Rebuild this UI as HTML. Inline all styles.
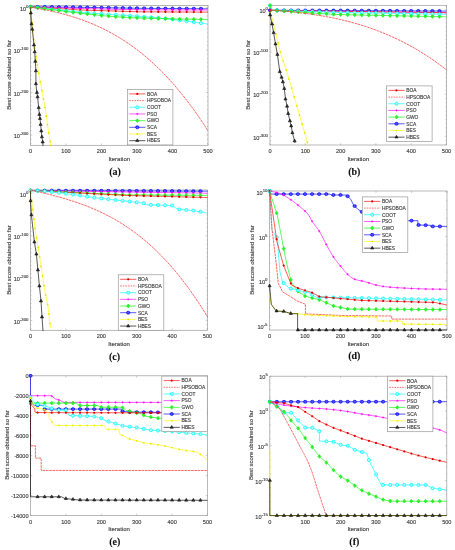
<!DOCTYPE html>
<html><head><meta charset="utf-8"><style>
html,body{margin:0;padding:0;background:#fff;width:455px;height:550px;overflow:hidden}
svg{display:block;will-change:transform}
text{stroke:#555;stroke-width:0.15px}
text.sub{stroke:#111;stroke-width:0.1px}
</style></head><body>
<svg width="455" height="550" viewBox="0 0 455 550">
<rect width="455" height="550" fill="#fff"/>
<g font-family='"Liberation Sans", sans-serif' font-size="5.6" fill="#333333"><text x="30.5" y="153.3" text-anchor="middle">0</text><text x="66" y="153.3" text-anchor="middle">100</text><text x="101.5" y="153.3" text-anchor="middle">200</text><text x="137" y="153.3" text-anchor="middle">300</text><text x="172.5" y="153.3" text-anchor="middle">400</text><text x="208" y="153.3" text-anchor="middle">500</text><text x="28.5" y="10.7" text-anchor="end">10<tspan dy="-3.0" font-size="4.3">0</tspan></text><text x="28.5" y="53.2" text-anchor="end">10<tspan dy="-3.0" font-size="4.3">-100</tspan></text><text x="28.5" y="95.7" text-anchor="end">10<tspan dy="-3.0" font-size="4.3">-200</tspan></text><text x="28.5" y="138.2" text-anchor="end">10<tspan dy="-3.0" font-size="4.3">-300</tspan></text></g>
<text x="119.25" y="161" text-anchor="middle" font-family='"Liberation Sans", sans-serif' font-size="6.0" fill="#333333">Iteration</text>
<text transform="translate(10.7 74.9) rotate(-90)" text-anchor="middle" font-family='"Liberation Sans", sans-serif' font-size="6.0" fill="#333333">Best score obtained so far</text>
<text x="115" y="174.7" text-anchor="middle" font-family='"Liberation Serif", serif' font-size="10" font-weight="bold" fill="#111" class="sub">(a)</text>
<rect x="30.5" y="5.5" width="177.5" height="139.8" fill="none" stroke="#9a9a9a" stroke-width="0.7"/>
<path d="M30.5 145.3v-1.8 M30.5 5.5v1.8 M66 145.3v-1.8 M66 5.5v1.8 M101.5 145.3v-1.8 M101.5 5.5v1.8 M137 145.3v-1.8 M137 5.5v1.8 M172.5 145.3v-1.8 M172.5 5.5v1.8 M208 145.3v-1.8 M208 5.5v1.8 M30.5 7.5h1.8 M208 7.5h-1.8 M30.5 50h1.8 M208 50h-1.8 M30.5 92.5h1.8 M208 92.5h-1.8 M30.5 135h1.8 M208 135h-1.8 M30.5 143.5h1 M208 143.5h-1 M30.5 139.25h1 M208 139.25h-1 M30.5 130.75h1 M208 130.75h-1 M30.5 126.5h1 M208 126.5h-1 M30.5 122.25h1 M208 122.25h-1 M30.5 118h1 M208 118h-1 M30.5 113.75h1 M208 113.75h-1 M30.5 109.5h1 M208 109.5h-1 M30.5 105.25h1 M208 105.25h-1 M30.5 101h1 M208 101h-1 M30.5 96.75h1 M208 96.75h-1 M30.5 88.25h1 M208 88.25h-1 M30.5 84h1 M208 84h-1 M30.5 79.75h1 M208 79.75h-1 M30.5 75.5h1 M208 75.5h-1 M30.5 71.25h1 M208 71.25h-1 M30.5 67h1 M208 67h-1 M30.5 62.75h1 M208 62.75h-1 M30.5 58.5h1 M208 58.5h-1 M30.5 54.25h1 M208 54.25h-1 M30.5 45.75h1 M208 45.75h-1 M30.5 41.5h1 M208 41.5h-1 M30.5 37.25h1 M208 37.25h-1 M30.5 33h1 M208 33h-1 M30.5 28.75h1 M208 28.75h-1 M30.5 24.5h1 M208 24.5h-1 M30.5 20.25h1 M208 20.25h-1 M30.5 16h1 M208 16h-1 M30.5 11.75h1 M208 11.75h-1" stroke="#9a9a9a" stroke-width="0.5" fill="none"/>
<clipPath id="ca"><rect x="28.5" y="3.5" width="181.5" height="143.8"/></clipPath>
<g clip-path="url(#ca)">
<polyline points="30.5,6.8 80,7.3 140,8.3 208,8.8" fill="none" stroke="#0000ff" stroke-width="0.65" stroke-linejoin="round"/>
<ellipse cx="30.5" cy="6.8" rx="1.7" ry="1.45" fill="#5050ff" stroke="#0000ff" stroke-width="0.7"/>
<ellipse cx="37.6" cy="6.87" rx="1.7" ry="1.45" fill="#5050ff" stroke="#0000ff" stroke-width="0.7"/>
<ellipse cx="44.7" cy="6.94" rx="1.7" ry="1.45" fill="#5050ff" stroke="#0000ff" stroke-width="0.7"/>
<ellipse cx="51.8" cy="7.02" rx="1.7" ry="1.45" fill="#5050ff" stroke="#0000ff" stroke-width="0.7"/>
<ellipse cx="58.9" cy="7.09" rx="1.7" ry="1.45" fill="#5050ff" stroke="#0000ff" stroke-width="0.7"/>
<ellipse cx="66" cy="7.16" rx="1.7" ry="1.45" fill="#5050ff" stroke="#0000ff" stroke-width="0.7"/>
<ellipse cx="73.1" cy="7.23" rx="1.7" ry="1.45" fill="#5050ff" stroke="#0000ff" stroke-width="0.7"/>
<ellipse cx="80.2" cy="7.3" rx="1.7" ry="1.45" fill="#5050ff" stroke="#0000ff" stroke-width="0.7"/>
<ellipse cx="87.3" cy="7.42" rx="1.7" ry="1.45" fill="#5050ff" stroke="#0000ff" stroke-width="0.7"/>
<ellipse cx="94.4" cy="7.54" rx="1.7" ry="1.45" fill="#5050ff" stroke="#0000ff" stroke-width="0.7"/>
<ellipse cx="101.5" cy="7.66" rx="1.7" ry="1.45" fill="#5050ff" stroke="#0000ff" stroke-width="0.7"/>
<ellipse cx="108.6" cy="7.78" rx="1.7" ry="1.45" fill="#5050ff" stroke="#0000ff" stroke-width="0.7"/>
<ellipse cx="115.7" cy="7.9" rx="1.7" ry="1.45" fill="#5050ff" stroke="#0000ff" stroke-width="0.7"/>
<ellipse cx="122.8" cy="8.01" rx="1.7" ry="1.45" fill="#5050ff" stroke="#0000ff" stroke-width="0.7"/>
<ellipse cx="129.9" cy="8.13" rx="1.7" ry="1.45" fill="#5050ff" stroke="#0000ff" stroke-width="0.7"/>
<ellipse cx="137" cy="8.25" rx="1.7" ry="1.45" fill="#5050ff" stroke="#0000ff" stroke-width="0.7"/>
<ellipse cx="144.1" cy="8.33" rx="1.7" ry="1.45" fill="#5050ff" stroke="#0000ff" stroke-width="0.7"/>
<ellipse cx="151.2" cy="8.38" rx="1.7" ry="1.45" fill="#5050ff" stroke="#0000ff" stroke-width="0.7"/>
<ellipse cx="158.3" cy="8.43" rx="1.7" ry="1.45" fill="#5050ff" stroke="#0000ff" stroke-width="0.7"/>
<ellipse cx="165.4" cy="8.49" rx="1.7" ry="1.45" fill="#5050ff" stroke="#0000ff" stroke-width="0.7"/>
<ellipse cx="172.5" cy="8.54" rx="1.7" ry="1.45" fill="#5050ff" stroke="#0000ff" stroke-width="0.7"/>
<ellipse cx="179.6" cy="8.59" rx="1.7" ry="1.45" fill="#5050ff" stroke="#0000ff" stroke-width="0.7"/>
<ellipse cx="186.7" cy="8.64" rx="1.7" ry="1.45" fill="#5050ff" stroke="#0000ff" stroke-width="0.7"/>
<ellipse cx="193.8" cy="8.7" rx="1.7" ry="1.45" fill="#5050ff" stroke="#0000ff" stroke-width="0.7"/>
<ellipse cx="200.9" cy="8.75" rx="1.7" ry="1.45" fill="#5050ff" stroke="#0000ff" stroke-width="0.7"/>
<polyline points="30.5,6.8 80,8.5 140,9.8 208,10" fill="none" stroke="#ff00ff" stroke-width="0.65" stroke-linejoin="round"/>
<path d="M29.4 6.8h2.2M30.5 5.7v2.2" stroke="#ff00ff" stroke-width="0.7"/>
<path d="M36.5 7.04h2.2M37.6 5.94v2.2" stroke="#ff00ff" stroke-width="0.7"/>
<path d="M43.6 7.29h2.2M44.7 6.19v2.2" stroke="#ff00ff" stroke-width="0.7"/>
<path d="M50.7 7.53h2.2M51.8 6.43v2.2" stroke="#ff00ff" stroke-width="0.7"/>
<path d="M57.8 7.78h2.2M58.9 6.68v2.2" stroke="#ff00ff" stroke-width="0.7"/>
<path d="M64.9 8.02h2.2M66 6.92v2.2" stroke="#ff00ff" stroke-width="0.7"/>
<path d="M72 8.26h2.2M73.1 7.16v2.2" stroke="#ff00ff" stroke-width="0.7"/>
<path d="M79.1 8.5h2.2M80.2 7.4v2.2" stroke="#ff00ff" stroke-width="0.7"/>
<path d="M86.2 8.66h2.2M87.3 7.56v2.2" stroke="#ff00ff" stroke-width="0.7"/>
<path d="M93.3 8.81h2.2M94.4 7.71v2.2" stroke="#ff00ff" stroke-width="0.7"/>
<path d="M100.4 8.97h2.2M101.5 7.87v2.2" stroke="#ff00ff" stroke-width="0.7"/>
<path d="M107.5 9.12h2.2M108.6 8.02v2.2" stroke="#ff00ff" stroke-width="0.7"/>
<path d="M114.6 9.27h2.2M115.7 8.17v2.2" stroke="#ff00ff" stroke-width="0.7"/>
<path d="M121.7 9.43h2.2M122.8 8.33v2.2" stroke="#ff00ff" stroke-width="0.7"/>
<path d="M128.8 9.58h2.2M129.9 8.48v2.2" stroke="#ff00ff" stroke-width="0.7"/>
<path d="M135.9 9.74h2.2M137 8.64v2.2" stroke="#ff00ff" stroke-width="0.7"/>
<path d="M143 9.81h2.2M144.1 8.71v2.2" stroke="#ff00ff" stroke-width="0.7"/>
<path d="M150.1 9.83h2.2M151.2 8.73v2.2" stroke="#ff00ff" stroke-width="0.7"/>
<path d="M157.2 9.85h2.2M158.3 8.75v2.2" stroke="#ff00ff" stroke-width="0.7"/>
<path d="M164.3 9.87h2.2M165.4 8.77v2.2" stroke="#ff00ff" stroke-width="0.7"/>
<path d="M171.4 9.9h2.2M172.5 8.8v2.2" stroke="#ff00ff" stroke-width="0.7"/>
<path d="M178.5 9.92h2.2M179.6 8.82v2.2" stroke="#ff00ff" stroke-width="0.7"/>
<path d="M185.6 9.94h2.2M186.7 8.84v2.2" stroke="#ff00ff" stroke-width="0.7"/>
<path d="M192.7 9.96h2.2M193.8 8.86v2.2" stroke="#ff00ff" stroke-width="0.7"/>
<path d="M199.8 9.98h2.2M200.9 8.88v2.2" stroke="#ff00ff" stroke-width="0.7"/>
<polyline points="30.5,6.8 80,10 140,11.8 208,12.1" fill="none" stroke="#ff0000" stroke-width="0.65" stroke-linejoin="round"/>
<circle cx="30.5" cy="6.8" r="1.1" fill="#e00000"/>
<circle cx="37.6" cy="7.26" r="1.1" fill="#e00000"/>
<circle cx="44.7" cy="7.72" r="1.1" fill="#e00000"/>
<circle cx="51.8" cy="8.18" r="1.1" fill="#e00000"/>
<circle cx="58.9" cy="8.64" r="1.1" fill="#e00000"/>
<circle cx="66" cy="9.09" r="1.1" fill="#e00000"/>
<circle cx="73.1" cy="9.55" r="1.1" fill="#e00000"/>
<circle cx="80.2" cy="10.01" r="1.1" fill="#e00000"/>
<circle cx="87.3" cy="10.22" r="1.1" fill="#e00000"/>
<circle cx="94.4" cy="10.43" r="1.1" fill="#e00000"/>
<circle cx="101.5" cy="10.64" r="1.1" fill="#e00000"/>
<circle cx="108.6" cy="10.86" r="1.1" fill="#e00000"/>
<circle cx="115.7" cy="11.07" r="1.1" fill="#e00000"/>
<circle cx="122.8" cy="11.28" r="1.1" fill="#e00000"/>
<circle cx="129.9" cy="11.5" r="1.1" fill="#e00000"/>
<circle cx="137" cy="11.71" r="1.1" fill="#e00000"/>
<circle cx="144.1" cy="11.82" r="1.1" fill="#e00000"/>
<circle cx="151.2" cy="11.85" r="1.1" fill="#e00000"/>
<circle cx="158.3" cy="11.88" r="1.1" fill="#e00000"/>
<circle cx="165.4" cy="11.91" r="1.1" fill="#e00000"/>
<circle cx="172.5" cy="11.94" r="1.1" fill="#e00000"/>
<circle cx="179.6" cy="11.97" r="1.1" fill="#e00000"/>
<circle cx="186.7" cy="12.01" r="1.1" fill="#e00000"/>
<circle cx="193.8" cy="12.04" r="1.1" fill="#e00000"/>
<circle cx="200.9" cy="12.07" r="1.1" fill="#e00000"/>
<polyline points="30.5,6.8 34.32,7.23 39.38,7.81 45.42,8.51 52.12,9.28 59.23,10.07 66.43,10.85 73.45,11.57 80,12.2 86.33,12.74 92.82,13.25 99.37,13.72 105.91,14.16 112.33,14.59 118.54,15 124.46,15.4 130,15.8 135.04,16.17 139.62,16.5 143.87,16.79 147.94,17.09 151.95,17.39 156.04,17.74 160.34,18.13 165,18.6 170.29,19.19 176.2,19.89 182.43,20.67 188.69,21.48 194.67,22.26 200.09,22.97 204.63,23.57 208,24" fill="none" stroke="#00ffff" stroke-width="0.65" stroke-linejoin="round"/>
<circle cx="30.5" cy="6.8" r="1.55" fill="#b0ffff" stroke="#00ffff" stroke-width="0.8"/>
<circle cx="37.6" cy="7.61" r="1.55" fill="#b0ffff" stroke="#00ffff" stroke-width="0.8"/>
<circle cx="44.7" cy="8.43" r="1.55" fill="#b0ffff" stroke="#00ffff" stroke-width="0.8"/>
<circle cx="51.8" cy="9.24" r="1.55" fill="#b0ffff" stroke="#00ffff" stroke-width="0.8"/>
<circle cx="58.9" cy="10.03" r="1.55" fill="#b0ffff" stroke="#00ffff" stroke-width="0.8"/>
<circle cx="66" cy="10.8" r="1.55" fill="#b0ffff" stroke="#00ffff" stroke-width="0.8"/>
<circle cx="73.1" cy="11.54" r="1.55" fill="#b0ffff" stroke="#00ffff" stroke-width="0.8"/>
<circle cx="80.2" cy="12.22" r="1.55" fill="#b0ffff" stroke="#00ffff" stroke-width="0.8"/>
<circle cx="87.3" cy="12.82" r="1.55" fill="#b0ffff" stroke="#00ffff" stroke-width="0.8"/>
<circle cx="94.4" cy="13.36" r="1.55" fill="#b0ffff" stroke="#00ffff" stroke-width="0.8"/>
<circle cx="101.5" cy="13.86" r="1.55" fill="#b0ffff" stroke="#00ffff" stroke-width="0.8"/>
<circle cx="108.6" cy="14.34" r="1.55" fill="#b0ffff" stroke="#00ffff" stroke-width="0.8"/>
<circle cx="115.7" cy="14.81" r="1.55" fill="#b0ffff" stroke="#00ffff" stroke-width="0.8"/>
<circle cx="122.8" cy="15.29" r="1.55" fill="#b0ffff" stroke="#00ffff" stroke-width="0.8"/>
<circle cx="129.9" cy="15.79" r="1.55" fill="#b0ffff" stroke="#00ffff" stroke-width="0.8"/>
<circle cx="137" cy="16.31" r="1.55" fill="#b0ffff" stroke="#00ffff" stroke-width="0.8"/>
<circle cx="144.1" cy="16.81" r="1.55" fill="#b0ffff" stroke="#00ffff" stroke-width="0.8"/>
<circle cx="151.2" cy="17.34" r="1.55" fill="#b0ffff" stroke="#00ffff" stroke-width="0.8"/>
<circle cx="158.3" cy="17.94" r="1.55" fill="#b0ffff" stroke="#00ffff" stroke-width="0.8"/>
<circle cx="165.4" cy="18.64" r="1.55" fill="#b0ffff" stroke="#00ffff" stroke-width="0.8"/>
<circle cx="172.5" cy="19.45" r="1.55" fill="#b0ffff" stroke="#00ffff" stroke-width="0.8"/>
<circle cx="179.6" cy="20.32" r="1.55" fill="#b0ffff" stroke="#00ffff" stroke-width="0.8"/>
<circle cx="186.7" cy="21.22" r="1.55" fill="#b0ffff" stroke="#00ffff" stroke-width="0.8"/>
<circle cx="193.8" cy="22.14" r="1.55" fill="#b0ffff" stroke="#00ffff" stroke-width="0.8"/>
<circle cx="200.9" cy="23.08" r="1.55" fill="#b0ffff" stroke="#00ffff" stroke-width="0.8"/>
<polyline points="30.5,6.8 34.32,7.31 39.38,8 45.42,8.82 52.12,9.72 59.23,10.67 66.43,11.59 73.45,12.45 80,13.2 86.03,13.86 91.81,14.5 97.48,15.11 103.22,15.68 109.18,16.22 115.52,16.72 122.41,17.18 130,17.6 138.94,17.97 149.36,18.3 160.63,18.58 172.12,18.83 183.23,19.04 193.33,19.22 201.79,19.37 208,19.5" fill="none" stroke="#00ff00" stroke-width="0.65" stroke-linejoin="round"/>
<path d="M30.5 4.9l1.5 1.9l-1.5 1.9l-1.5 -1.9z" fill="#40e040" stroke="#00ff00" stroke-width="0.6"/>
<path d="M37.6 5.85l1.5 1.9l-1.5 1.9l-1.5 -1.9z" fill="#40e040" stroke="#00ff00" stroke-width="0.6"/>
<path d="M44.7 6.82l1.5 1.9l-1.5 1.9l-1.5 -1.9z" fill="#40e040" stroke="#00ff00" stroke-width="0.6"/>
<path d="M51.8 7.78l1.5 1.9l-1.5 1.9l-1.5 -1.9z" fill="#40e040" stroke="#00ff00" stroke-width="0.6"/>
<path d="M58.9 8.72l1.5 1.9l-1.5 1.9l-1.5 -1.9z" fill="#40e040" stroke="#00ff00" stroke-width="0.6"/>
<path d="M66 9.64l1.5 1.9l-1.5 1.9l-1.5 -1.9z" fill="#40e040" stroke="#00ff00" stroke-width="0.6"/>
<path d="M73.1 10.51l1.5 1.9l-1.5 1.9l-1.5 -1.9z" fill="#40e040" stroke="#00ff00" stroke-width="0.6"/>
<path d="M80.2 11.32l1.5 1.9l-1.5 1.9l-1.5 -1.9z" fill="#40e040" stroke="#00ff00" stroke-width="0.6"/>
<path d="M87.3 12.1l1.5 1.9l-1.5 1.9l-1.5 -1.9z" fill="#40e040" stroke="#00ff00" stroke-width="0.6"/>
<path d="M94.4 12.88l1.5 1.9l-1.5 1.9l-1.5 -1.9z" fill="#40e040" stroke="#00ff00" stroke-width="0.6"/>
<path d="M101.5 13.61l1.5 1.9l-1.5 1.9l-1.5 -1.9z" fill="#40e040" stroke="#00ff00" stroke-width="0.6"/>
<path d="M108.6 14.27l1.5 1.9l-1.5 1.9l-1.5 -1.9z" fill="#40e040" stroke="#00ff00" stroke-width="0.6"/>
<path d="M115.7 14.83l1.5 1.9l-1.5 1.9l-1.5 -1.9z" fill="#40e040" stroke="#00ff00" stroke-width="0.6"/>
<path d="M122.8 15.3l1.5 1.9l-1.5 1.9l-1.5 -1.9z" fill="#40e040" stroke="#00ff00" stroke-width="0.6"/>
<path d="M129.9 15.69l1.5 1.9l-1.5 1.9l-1.5 -1.9z" fill="#40e040" stroke="#00ff00" stroke-width="0.6"/>
<path d="M137 15.99l1.5 1.9l-1.5 1.9l-1.5 -1.9z" fill="#40e040" stroke="#00ff00" stroke-width="0.6"/>
<path d="M144.1 16.23l1.5 1.9l-1.5 1.9l-1.5 -1.9z" fill="#40e040" stroke="#00ff00" stroke-width="0.6"/>
<path d="M151.2 16.44l1.5 1.9l-1.5 1.9l-1.5 -1.9z" fill="#40e040" stroke="#00ff00" stroke-width="0.6"/>
<path d="M158.3 16.62l1.5 1.9l-1.5 1.9l-1.5 -1.9z" fill="#40e040" stroke="#00ff00" stroke-width="0.6"/>
<path d="M165.4 16.78l1.5 1.9l-1.5 1.9l-1.5 -1.9z" fill="#40e040" stroke="#00ff00" stroke-width="0.6"/>
<path d="M172.5 16.93l1.5 1.9l-1.5 1.9l-1.5 -1.9z" fill="#40e040" stroke="#00ff00" stroke-width="0.6"/>
<path d="M179.6 17.07l1.5 1.9l-1.5 1.9l-1.5 -1.9z" fill="#40e040" stroke="#00ff00" stroke-width="0.6"/>
<path d="M186.7 17.2l1.5 1.9l-1.5 1.9l-1.5 -1.9z" fill="#40e040" stroke="#00ff00" stroke-width="0.6"/>
<path d="M193.8 17.33l1.5 1.9l-1.5 1.9l-1.5 -1.9z" fill="#40e040" stroke="#00ff00" stroke-width="0.6"/>
<path d="M200.9 17.45l1.5 1.9l-1.5 1.9l-1.5 -1.9z" fill="#40e040" stroke="#00ff00" stroke-width="0.6"/>
<polyline points="30.5,7.24 35.05,8 39.6,8.8 44.15,9.66 48.71,10.59 53.26,11.58 57.81,12.65 62.36,13.8 66.91,15.04 71.46,16.37 76.01,17.8 80.56,19.34 85.12,20.99 89.67,22.76 94.22,24.65 98.77,26.68 103.32,28.84 107.87,31.15 112.42,33.6 116.97,36.21 121.53,38.99 126.08,41.93 130.63,45.05 135.18,48.35 139.73,51.83 144.28,55.51 148.83,59.39 153.38,63.48 157.94,67.78 162.49,72.29 167.04,77.03 171.59,82 176.14,87.21 180.69,92.66 185.24,98.36 189.79,104.32 194.35,110.54 198.9,117.02 203.45,123.79 208,130.83" fill="none" stroke="#ff3333" stroke-width="0.75" stroke-dasharray="2.6 0.7" stroke-linejoin="round"/>
<polyline points="30.5,7.5 34.2,45 39,75 44.6,105 50.7,146" fill="none" stroke="#ffff00" stroke-width="0.65" stroke-linejoin="round"/>
<circle cx="31.14" cy="14" r="0.9" fill="#e8e800"/>
<circle cx="31.98" cy="22.5" r="0.9" fill="#e8e800"/>
<circle cx="32.82" cy="31" r="0.9" fill="#e8e800"/>
<circle cx="33.66" cy="39.5" r="0.9" fill="#e8e800"/>
<circle cx="34.68" cy="48" r="0.9" fill="#e8e800"/>
<circle cx="36.04" cy="56.5" r="0.9" fill="#e8e800"/>
<circle cx="37.4" cy="65" r="0.9" fill="#e8e800"/>
<circle cx="38.76" cy="73.5" r="0.9" fill="#e8e800"/>
<circle cx="40.31" cy="82" r="0.9" fill="#e8e800"/>
<circle cx="41.89" cy="90.5" r="0.9" fill="#e8e800"/>
<circle cx="43.48" cy="99" r="0.9" fill="#e8e800"/>
<circle cx="44.97" cy="107.5" r="0.9" fill="#e8e800"/>
<circle cx="46.24" cy="116" r="0.9" fill="#e8e800"/>
<circle cx="47.5" cy="124.5" r="0.9" fill="#e8e800"/>
<circle cx="48.77" cy="133" r="0.9" fill="#e8e800"/>
<circle cx="50.03" cy="141.5" r="0.9" fill="#e8e800"/>
<polyline points="30.5,7.5 30.8,13 31.5,23.9 32.3,29.3 34,45 34.7,51.8 35.3,61.4 35.9,70.9 35.9,83.8 36.9,92.5 37.6,96.9 38.7,107.7 39.4,114.5 40,118.6 40.6,124.5 41.3,131 41.9,136.9 42.7,142 43,146" fill="none" stroke="#000000" stroke-width="0.65" stroke-linejoin="round"/>
<path d="M30.8 11.1l1.6 2.8h-3.2z" fill="#333" stroke="#000" stroke-width="0.5"/>
<path d="M31.5 22l1.6 2.8h-3.2z" fill="#333" stroke="#000" stroke-width="0.5"/>
<path d="M32.3 27.4l1.6 2.8h-3.2z" fill="#333" stroke="#000" stroke-width="0.5"/>
<path d="M34 43.1l1.6 2.8h-3.2z" fill="#333" stroke="#000" stroke-width="0.5"/>
<path d="M34.7 49.9l1.6 2.8h-3.2z" fill="#333" stroke="#000" stroke-width="0.5"/>
<path d="M35.3 59.5l1.6 2.8h-3.2z" fill="#333" stroke="#000" stroke-width="0.5"/>
<path d="M35.9 69l1.6 2.8h-3.2z" fill="#333" stroke="#000" stroke-width="0.5"/>
<path d="M35.9 81.9l1.6 2.8h-3.2z" fill="#333" stroke="#000" stroke-width="0.5"/>
<path d="M36.9 90.6l1.6 2.8h-3.2z" fill="#333" stroke="#000" stroke-width="0.5"/>
<path d="M37.6 95l1.6 2.8h-3.2z" fill="#333" stroke="#000" stroke-width="0.5"/>
<path d="M38.7 105.8l1.6 2.8h-3.2z" fill="#333" stroke="#000" stroke-width="0.5"/>
<path d="M39.4 112.6l1.6 2.8h-3.2z" fill="#333" stroke="#000" stroke-width="0.5"/>
<path d="M40 116.7l1.6 2.8h-3.2z" fill="#333" stroke="#000" stroke-width="0.5"/>
<path d="M40.6 122.6l1.6 2.8h-3.2z" fill="#333" stroke="#000" stroke-width="0.5"/>
<path d="M41.3 129.1l1.6 2.8h-3.2z" fill="#333" stroke="#000" stroke-width="0.5"/>
<path d="M41.9 135l1.6 2.8h-3.2z" fill="#333" stroke="#000" stroke-width="0.5"/>
<path d="M42.7 140.1l1.6 2.8h-3.2z" fill="#333" stroke="#000" stroke-width="0.5"/>
</g>
<rect x="127.4" y="89.4" width="45.5" height="55.5" fill="#fff" stroke="#9a9a9a" stroke-width="0.7"/>
<line x1="129.2" y1="93.9" x2="145.4" y2="93.9" stroke="#ff0000" stroke-width="0.65"/>
<circle cx="137.3" cy="93.9" r="1.1" fill="#e00000"/>
<text x="147" y="95.7" font-family='"Liberation Sans", sans-serif' font-size="4.85" fill="#333333">BOA</text>
<line x1="129.2" y1="100.58" x2="145.4" y2="100.58" stroke="#ff3333" stroke-width="0.7" stroke-dasharray="1.6 1"/>
<text x="147" y="102.38" font-family='"Liberation Sans", sans-serif' font-size="4.85" fill="#333333">HPSOBOA</text>
<line x1="129.2" y1="107.26" x2="145.4" y2="107.26" stroke="#00ffff" stroke-width="0.65"/>
<circle cx="137.3" cy="107.26" r="1.55" fill="#b0ffff" stroke="#00ffff" stroke-width="0.8"/>
<text x="147" y="109.06" font-family='"Liberation Sans", sans-serif' font-size="4.85" fill="#333333">COOT</text>
<line x1="129.2" y1="113.94" x2="145.4" y2="113.94" stroke="#ff00ff" stroke-width="0.65"/>
<path d="M136.2 113.94h2.2M137.3 112.84v2.2" stroke="#ff00ff" stroke-width="0.7"/>
<text x="147" y="115.74" font-family='"Liberation Sans", sans-serif' font-size="4.85" fill="#333333">PSO</text>
<line x1="129.2" y1="120.62" x2="145.4" y2="120.62" stroke="#00ff00" stroke-width="0.65"/>
<path d="M137.3 118.72l1.5 1.9l-1.5 1.9l-1.5 -1.9z" fill="#40e040" stroke="#00ff00" stroke-width="0.6"/>
<text x="147" y="122.42" font-family='"Liberation Sans", sans-serif' font-size="4.85" fill="#333333">GWO</text>
<line x1="129.2" y1="127.3" x2="145.4" y2="127.3" stroke="#0000ff" stroke-width="0.65"/>
<ellipse cx="137.3" cy="127.3" rx="1.7" ry="1.45" fill="#5050ff" stroke="#0000ff" stroke-width="0.7"/>
<text x="147" y="129.1" font-family='"Liberation Sans", sans-serif' font-size="4.85" fill="#333333">SCA</text>
<line x1="129.2" y1="133.98" x2="145.4" y2="133.98" stroke="#ffff00" stroke-width="0.65"/>
<circle cx="137.3" cy="133.98" r="0.9" fill="#e8e800"/>
<text x="147" y="135.78" font-family='"Liberation Sans", sans-serif' font-size="4.85" fill="#333333">BES</text>
<line x1="129.2" y1="140.66" x2="145.4" y2="140.66" stroke="#000000" stroke-width="0.65"/>
<path d="M137.3 138.76l1.6 2.8h-3.2z" fill="#333" stroke="#000" stroke-width="0.5"/>
<text x="147" y="142.46" font-family='"Liberation Sans", sans-serif' font-size="4.85" fill="#333333">HBES</text>
<g font-family='"Liberation Sans", sans-serif' font-size="5.6" fill="#333333"><text x="270" y="153" text-anchor="middle">0</text><text x="305.3" y="153" text-anchor="middle">100</text><text x="340.6" y="153" text-anchor="middle">200</text><text x="375.9" y="153" text-anchor="middle">300</text><text x="411.2" y="153" text-anchor="middle">400</text><text x="446.5" y="153" text-anchor="middle">500</text><text x="268" y="13.2" text-anchor="end">10<tspan dy="-3.0" font-size="4.3">0</tspan></text><text x="268" y="55.3" text-anchor="end">10<tspan dy="-3.0" font-size="4.3">-100</tspan></text><text x="268" y="97.4" text-anchor="end">10<tspan dy="-3.0" font-size="4.3">-200</tspan></text><text x="268" y="139.5" text-anchor="end">10<tspan dy="-3.0" font-size="4.3">-300</tspan></text></g>
<text x="358.25" y="160.7" text-anchor="middle" font-family='"Liberation Sans", sans-serif' font-size="6.0" fill="#333333">Iteration</text>
<text transform="translate(250.05 74.8) rotate(-90)" text-anchor="middle" font-family='"Liberation Sans", sans-serif' font-size="6.0" fill="#333333">Best score obtained so far</text>
<text x="354.3" y="174.6" text-anchor="middle" font-family='"Liberation Serif", serif' font-size="10" font-weight="bold" fill="#111" class="sub">(b)</text>
<rect x="270" y="5.3" width="176.5" height="139.7" fill="none" stroke="#9a9a9a" stroke-width="0.7"/>
<path d="M270 145v-1.8 M270 5.3v1.8 M305.3 145v-1.8 M305.3 5.3v1.8 M340.6 145v-1.8 M340.6 5.3v1.8 M375.9 145v-1.8 M375.9 5.3v1.8 M411.2 145v-1.8 M411.2 5.3v1.8 M446.5 145v-1.8 M446.5 5.3v1.8 M270 10h1.8 M446.5 10h-1.8 M270 52.1h1.8 M446.5 52.1h-1.8 M270 94.2h1.8 M446.5 94.2h-1.8 M270 136.3h1.8 M446.5 136.3h-1.8 M270 144.72h1 M446.5 144.72h-1 M270 140.51h1 M446.5 140.51h-1 M270 132.09h1 M446.5 132.09h-1 M270 127.88h1 M446.5 127.88h-1 M270 123.67h1 M446.5 123.67h-1 M270 119.46h1 M446.5 119.46h-1 M270 115.25h1 M446.5 115.25h-1 M270 111.04h1 M446.5 111.04h-1 M270 106.83h1 M446.5 106.83h-1 M270 102.62h1 M446.5 102.62h-1 M270 98.41h1 M446.5 98.41h-1 M270 89.99h1 M446.5 89.99h-1 M270 85.78h1 M446.5 85.78h-1 M270 81.57h1 M446.5 81.57h-1 M270 77.36h1 M446.5 77.36h-1 M270 73.15h1 M446.5 73.15h-1 M270 68.94h1 M446.5 68.94h-1 M270 64.73h1 M446.5 64.73h-1 M270 60.52h1 M446.5 60.52h-1 M270 56.31h1 M446.5 56.31h-1 M270 47.89h1 M446.5 47.89h-1 M270 43.68h1 M446.5 43.68h-1 M270 39.47h1 M446.5 39.47h-1 M270 35.26h1 M446.5 35.26h-1 M270 31.05h1 M446.5 31.05h-1 M270 26.84h1 M446.5 26.84h-1 M270 22.63h1 M446.5 22.63h-1 M270 18.42h1 M446.5 18.42h-1 M270 14.21h1 M446.5 14.21h-1 M270 5.79h1 M446.5 5.79h-1" stroke="#9a9a9a" stroke-width="0.5" fill="none"/>
<clipPath id="cb"><rect x="268" y="3.3" width="180.5" height="143.7"/></clipPath>
<g clip-path="url(#cb)">
<polyline points="270,10.3 335,10.5 446.5,11.1" fill="none" stroke="#0000ff" stroke-width="0.65" stroke-linejoin="round"/>
<ellipse cx="270" cy="10.3" rx="1.7" ry="1.45" fill="#5050ff" stroke="#0000ff" stroke-width="0.7"/>
<ellipse cx="277.06" cy="10.32" rx="1.7" ry="1.45" fill="#5050ff" stroke="#0000ff" stroke-width="0.7"/>
<ellipse cx="284.12" cy="10.34" rx="1.7" ry="1.45" fill="#5050ff" stroke="#0000ff" stroke-width="0.7"/>
<ellipse cx="291.18" cy="10.37" rx="1.7" ry="1.45" fill="#5050ff" stroke="#0000ff" stroke-width="0.7"/>
<ellipse cx="298.24" cy="10.39" rx="1.7" ry="1.45" fill="#5050ff" stroke="#0000ff" stroke-width="0.7"/>
<ellipse cx="305.3" cy="10.41" rx="1.7" ry="1.45" fill="#5050ff" stroke="#0000ff" stroke-width="0.7"/>
<ellipse cx="312.36" cy="10.43" rx="1.7" ry="1.45" fill="#5050ff" stroke="#0000ff" stroke-width="0.7"/>
<ellipse cx="319.42" cy="10.45" rx="1.7" ry="1.45" fill="#5050ff" stroke="#0000ff" stroke-width="0.7"/>
<ellipse cx="326.48" cy="10.47" rx="1.7" ry="1.45" fill="#5050ff" stroke="#0000ff" stroke-width="0.7"/>
<ellipse cx="333.54" cy="10.5" rx="1.7" ry="1.45" fill="#5050ff" stroke="#0000ff" stroke-width="0.7"/>
<ellipse cx="340.6" cy="10.53" rx="1.7" ry="1.45" fill="#5050ff" stroke="#0000ff" stroke-width="0.7"/>
<ellipse cx="347.66" cy="10.57" rx="1.7" ry="1.45" fill="#5050ff" stroke="#0000ff" stroke-width="0.7"/>
<ellipse cx="354.72" cy="10.61" rx="1.7" ry="1.45" fill="#5050ff" stroke="#0000ff" stroke-width="0.7"/>
<ellipse cx="361.78" cy="10.64" rx="1.7" ry="1.45" fill="#5050ff" stroke="#0000ff" stroke-width="0.7"/>
<ellipse cx="368.84" cy="10.68" rx="1.7" ry="1.45" fill="#5050ff" stroke="#0000ff" stroke-width="0.7"/>
<ellipse cx="375.9" cy="10.72" rx="1.7" ry="1.45" fill="#5050ff" stroke="#0000ff" stroke-width="0.7"/>
<ellipse cx="382.96" cy="10.76" rx="1.7" ry="1.45" fill="#5050ff" stroke="#0000ff" stroke-width="0.7"/>
<ellipse cx="390.02" cy="10.8" rx="1.7" ry="1.45" fill="#5050ff" stroke="#0000ff" stroke-width="0.7"/>
<ellipse cx="397.08" cy="10.83" rx="1.7" ry="1.45" fill="#5050ff" stroke="#0000ff" stroke-width="0.7"/>
<ellipse cx="404.14" cy="10.87" rx="1.7" ry="1.45" fill="#5050ff" stroke="#0000ff" stroke-width="0.7"/>
<ellipse cx="411.2" cy="10.91" rx="1.7" ry="1.45" fill="#5050ff" stroke="#0000ff" stroke-width="0.7"/>
<ellipse cx="418.26" cy="10.95" rx="1.7" ry="1.45" fill="#5050ff" stroke="#0000ff" stroke-width="0.7"/>
<ellipse cx="425.32" cy="10.99" rx="1.7" ry="1.45" fill="#5050ff" stroke="#0000ff" stroke-width="0.7"/>
<ellipse cx="432.38" cy="11.02" rx="1.7" ry="1.45" fill="#5050ff" stroke="#0000ff" stroke-width="0.7"/>
<ellipse cx="439.44" cy="11.06" rx="1.7" ry="1.45" fill="#5050ff" stroke="#0000ff" stroke-width="0.7"/>
<polyline points="270,10.3 446.5,12.7" fill="none" stroke="#ff00ff" stroke-width="0.65" stroke-linejoin="round"/>
<path d="M268.9 10.3h2.2M270 9.2v2.2" stroke="#ff00ff" stroke-width="0.7"/>
<path d="M275.96 10.4h2.2M277.06 9.3v2.2" stroke="#ff00ff" stroke-width="0.7"/>
<path d="M283.02 10.49h2.2M284.12 9.39v2.2" stroke="#ff00ff" stroke-width="0.7"/>
<path d="M290.08 10.59h2.2M291.18 9.49v2.2" stroke="#ff00ff" stroke-width="0.7"/>
<path d="M297.14 10.68h2.2M298.24 9.58v2.2" stroke="#ff00ff" stroke-width="0.7"/>
<path d="M304.2 10.78h2.2M305.3 9.68v2.2" stroke="#ff00ff" stroke-width="0.7"/>
<path d="M311.26 10.88h2.2M312.36 9.78v2.2" stroke="#ff00ff" stroke-width="0.7"/>
<path d="M318.32 10.97h2.2M319.42 9.87v2.2" stroke="#ff00ff" stroke-width="0.7"/>
<path d="M325.38 11.07h2.2M326.48 9.97v2.2" stroke="#ff00ff" stroke-width="0.7"/>
<path d="M332.44 11.16h2.2M333.54 10.06v2.2" stroke="#ff00ff" stroke-width="0.7"/>
<path d="M339.5 11.26h2.2M340.6 10.16v2.2" stroke="#ff00ff" stroke-width="0.7"/>
<path d="M346.56 11.36h2.2M347.66 10.26v2.2" stroke="#ff00ff" stroke-width="0.7"/>
<path d="M353.62 11.45h2.2M354.72 10.35v2.2" stroke="#ff00ff" stroke-width="0.7"/>
<path d="M360.68 11.55h2.2M361.78 10.45v2.2" stroke="#ff00ff" stroke-width="0.7"/>
<path d="M367.74 11.64h2.2M368.84 10.54v2.2" stroke="#ff00ff" stroke-width="0.7"/>
<path d="M374.8 11.74h2.2M375.9 10.64v2.2" stroke="#ff00ff" stroke-width="0.7"/>
<path d="M381.86 11.84h2.2M382.96 10.74v2.2" stroke="#ff00ff" stroke-width="0.7"/>
<path d="M388.92 11.93h2.2M390.02 10.83v2.2" stroke="#ff00ff" stroke-width="0.7"/>
<path d="M395.98 12.03h2.2M397.08 10.93v2.2" stroke="#ff00ff" stroke-width="0.7"/>
<path d="M403.04 12.12h2.2M404.14 11.02v2.2" stroke="#ff00ff" stroke-width="0.7"/>
<path d="M410.1 12.22h2.2M411.2 11.12v2.2" stroke="#ff00ff" stroke-width="0.7"/>
<path d="M417.16 12.32h2.2M418.26 11.22v2.2" stroke="#ff00ff" stroke-width="0.7"/>
<path d="M424.22 12.41h2.2M425.32 11.31v2.2" stroke="#ff00ff" stroke-width="0.7"/>
<path d="M431.28 12.51h2.2M432.38 11.41v2.2" stroke="#ff00ff" stroke-width="0.7"/>
<path d="M438.34 12.6h2.2M439.44 11.5v2.2" stroke="#ff00ff" stroke-width="0.7"/>
<polyline points="270,10.3 446.5,12.7" fill="none" stroke="#ff0000" stroke-width="0.65" stroke-linejoin="round"/>
<circle cx="270" cy="10.3" r="1.1" fill="#e00000"/>
<circle cx="277.06" cy="10.4" r="1.1" fill="#e00000"/>
<circle cx="284.12" cy="10.49" r="1.1" fill="#e00000"/>
<circle cx="291.18" cy="10.59" r="1.1" fill="#e00000"/>
<circle cx="298.24" cy="10.68" r="1.1" fill="#e00000"/>
<circle cx="305.3" cy="10.78" r="1.1" fill="#e00000"/>
<circle cx="312.36" cy="10.88" r="1.1" fill="#e00000"/>
<circle cx="319.42" cy="10.97" r="1.1" fill="#e00000"/>
<circle cx="326.48" cy="11.07" r="1.1" fill="#e00000"/>
<circle cx="333.54" cy="11.16" r="1.1" fill="#e00000"/>
<circle cx="340.6" cy="11.26" r="1.1" fill="#e00000"/>
<circle cx="347.66" cy="11.36" r="1.1" fill="#e00000"/>
<circle cx="354.72" cy="11.45" r="1.1" fill="#e00000"/>
<circle cx="361.78" cy="11.55" r="1.1" fill="#e00000"/>
<circle cx="368.84" cy="11.64" r="1.1" fill="#e00000"/>
<circle cx="375.9" cy="11.74" r="1.1" fill="#e00000"/>
<circle cx="382.96" cy="11.84" r="1.1" fill="#e00000"/>
<circle cx="390.02" cy="11.93" r="1.1" fill="#e00000"/>
<circle cx="397.08" cy="12.03" r="1.1" fill="#e00000"/>
<circle cx="404.14" cy="12.12" r="1.1" fill="#e00000"/>
<circle cx="411.2" cy="12.22" r="1.1" fill="#e00000"/>
<circle cx="418.26" cy="12.32" r="1.1" fill="#e00000"/>
<circle cx="425.32" cy="12.41" r="1.1" fill="#e00000"/>
<circle cx="432.38" cy="12.51" r="1.1" fill="#e00000"/>
<circle cx="439.44" cy="12.6" r="1.1" fill="#e00000"/>
<polyline points="270,5.5 272,10.3 335,12.3 446.5,14.3" fill="none" stroke="#00ffff" stroke-width="0.65" stroke-linejoin="round"/>
<circle cx="270" cy="5.5" r="1.55" fill="#b0ffff" stroke="#00ffff" stroke-width="0.8"/>
<circle cx="277.06" cy="10.46" r="1.55" fill="#b0ffff" stroke="#00ffff" stroke-width="0.8"/>
<circle cx="284.12" cy="10.68" r="1.55" fill="#b0ffff" stroke="#00ffff" stroke-width="0.8"/>
<circle cx="291.18" cy="10.91" r="1.55" fill="#b0ffff" stroke="#00ffff" stroke-width="0.8"/>
<circle cx="298.24" cy="11.13" r="1.55" fill="#b0ffff" stroke="#00ffff" stroke-width="0.8"/>
<circle cx="305.3" cy="11.36" r="1.55" fill="#b0ffff" stroke="#00ffff" stroke-width="0.8"/>
<circle cx="312.36" cy="11.58" r="1.55" fill="#b0ffff" stroke="#00ffff" stroke-width="0.8"/>
<circle cx="319.42" cy="11.81" r="1.55" fill="#b0ffff" stroke="#00ffff" stroke-width="0.8"/>
<circle cx="326.48" cy="12.03" r="1.55" fill="#b0ffff" stroke="#00ffff" stroke-width="0.8"/>
<circle cx="333.54" cy="12.25" r="1.55" fill="#b0ffff" stroke="#00ffff" stroke-width="0.8"/>
<circle cx="340.6" cy="12.4" r="1.55" fill="#b0ffff" stroke="#00ffff" stroke-width="0.8"/>
<circle cx="347.66" cy="12.53" r="1.55" fill="#b0ffff" stroke="#00ffff" stroke-width="0.8"/>
<circle cx="354.72" cy="12.65" r="1.55" fill="#b0ffff" stroke="#00ffff" stroke-width="0.8"/>
<circle cx="361.78" cy="12.78" r="1.55" fill="#b0ffff" stroke="#00ffff" stroke-width="0.8"/>
<circle cx="368.84" cy="12.91" r="1.55" fill="#b0ffff" stroke="#00ffff" stroke-width="0.8"/>
<circle cx="375.9" cy="13.03" r="1.55" fill="#b0ffff" stroke="#00ffff" stroke-width="0.8"/>
<circle cx="382.96" cy="13.16" r="1.55" fill="#b0ffff" stroke="#00ffff" stroke-width="0.8"/>
<circle cx="390.02" cy="13.29" r="1.55" fill="#b0ffff" stroke="#00ffff" stroke-width="0.8"/>
<circle cx="397.08" cy="13.41" r="1.55" fill="#b0ffff" stroke="#00ffff" stroke-width="0.8"/>
<circle cx="404.14" cy="13.54" r="1.55" fill="#b0ffff" stroke="#00ffff" stroke-width="0.8"/>
<circle cx="411.2" cy="13.67" r="1.55" fill="#b0ffff" stroke="#00ffff" stroke-width="0.8"/>
<circle cx="418.26" cy="13.79" r="1.55" fill="#b0ffff" stroke="#00ffff" stroke-width="0.8"/>
<circle cx="425.32" cy="13.92" r="1.55" fill="#b0ffff" stroke="#00ffff" stroke-width="0.8"/>
<circle cx="432.38" cy="14.05" r="1.55" fill="#b0ffff" stroke="#00ffff" stroke-width="0.8"/>
<circle cx="439.44" cy="14.17" r="1.55" fill="#b0ffff" stroke="#00ffff" stroke-width="0.8"/>
<polyline points="270,5.5 272,10.3 335,14.5 446.5,16.8" fill="none" stroke="#00ff00" stroke-width="0.65" stroke-linejoin="round"/>
<path d="M270 3.6l1.5 1.9l-1.5 1.9l-1.5 -1.9z" fill="#40e040" stroke="#00ff00" stroke-width="0.6"/>
<path d="M277.06 8.74l1.5 1.9l-1.5 1.9l-1.5 -1.9z" fill="#40e040" stroke="#00ff00" stroke-width="0.6"/>
<path d="M284.12 9.21l1.5 1.9l-1.5 1.9l-1.5 -1.9z" fill="#40e040" stroke="#00ff00" stroke-width="0.6"/>
<path d="M291.18 9.68l1.5 1.9l-1.5 1.9l-1.5 -1.9z" fill="#40e040" stroke="#00ff00" stroke-width="0.6"/>
<path d="M298.24 10.15l1.5 1.9l-1.5 1.9l-1.5 -1.9z" fill="#40e040" stroke="#00ff00" stroke-width="0.6"/>
<path d="M305.3 10.62l1.5 1.9l-1.5 1.9l-1.5 -1.9z" fill="#40e040" stroke="#00ff00" stroke-width="0.6"/>
<path d="M312.36 11.09l1.5 1.9l-1.5 1.9l-1.5 -1.9z" fill="#40e040" stroke="#00ff00" stroke-width="0.6"/>
<path d="M319.42 11.56l1.5 1.9l-1.5 1.9l-1.5 -1.9z" fill="#40e040" stroke="#00ff00" stroke-width="0.6"/>
<path d="M326.48 12.03l1.5 1.9l-1.5 1.9l-1.5 -1.9z" fill="#40e040" stroke="#00ff00" stroke-width="0.6"/>
<path d="M333.54 12.5l1.5 1.9l-1.5 1.9l-1.5 -1.9z" fill="#40e040" stroke="#00ff00" stroke-width="0.6"/>
<path d="M340.6 12.72l1.5 1.9l-1.5 1.9l-1.5 -1.9z" fill="#40e040" stroke="#00ff00" stroke-width="0.6"/>
<path d="M347.66 12.86l1.5 1.9l-1.5 1.9l-1.5 -1.9z" fill="#40e040" stroke="#00ff00" stroke-width="0.6"/>
<path d="M354.72 13.01l1.5 1.9l-1.5 1.9l-1.5 -1.9z" fill="#40e040" stroke="#00ff00" stroke-width="0.6"/>
<path d="M361.78 13.15l1.5 1.9l-1.5 1.9l-1.5 -1.9z" fill="#40e040" stroke="#00ff00" stroke-width="0.6"/>
<path d="M368.84 13.3l1.5 1.9l-1.5 1.9l-1.5 -1.9z" fill="#40e040" stroke="#00ff00" stroke-width="0.6"/>
<path d="M375.9 13.44l1.5 1.9l-1.5 1.9l-1.5 -1.9z" fill="#40e040" stroke="#00ff00" stroke-width="0.6"/>
<path d="M382.96 13.59l1.5 1.9l-1.5 1.9l-1.5 -1.9z" fill="#40e040" stroke="#00ff00" stroke-width="0.6"/>
<path d="M390.02 13.73l1.5 1.9l-1.5 1.9l-1.5 -1.9z" fill="#40e040" stroke="#00ff00" stroke-width="0.6"/>
<path d="M397.08 13.88l1.5 1.9l-1.5 1.9l-1.5 -1.9z" fill="#40e040" stroke="#00ff00" stroke-width="0.6"/>
<path d="M404.14 14.03l1.5 1.9l-1.5 1.9l-1.5 -1.9z" fill="#40e040" stroke="#00ff00" stroke-width="0.6"/>
<path d="M411.2 14.17l1.5 1.9l-1.5 1.9l-1.5 -1.9z" fill="#40e040" stroke="#00ff00" stroke-width="0.6"/>
<path d="M418.26 14.32l1.5 1.9l-1.5 1.9l-1.5 -1.9z" fill="#40e040" stroke="#00ff00" stroke-width="0.6"/>
<path d="M425.32 14.46l1.5 1.9l-1.5 1.9l-1.5 -1.9z" fill="#40e040" stroke="#00ff00" stroke-width="0.6"/>
<path d="M432.38 14.61l1.5 1.9l-1.5 1.9l-1.5 -1.9z" fill="#40e040" stroke="#00ff00" stroke-width="0.6"/>
<path d="M439.44 14.75l1.5 1.9l-1.5 1.9l-1.5 -1.9z" fill="#40e040" stroke="#00ff00" stroke-width="0.6"/>
<polyline points="270,10.15 274.53,10.45 279.05,10.79 283.58,11.15 288.1,11.54 292.63,11.98 297.15,12.45 301.68,12.96 306.21,13.52 310.73,14.13 315.26,14.79 319.78,15.51 324.31,16.28 328.83,17.11 333.36,18.01 337.88,18.97 342.41,20 346.94,21.1 351.46,22.28 355.99,23.54 360.51,24.88 365.04,26.31 369.56,27.82 374.09,29.42 378.62,31.12 383.14,32.91 387.67,34.8 392.19,36.8 396.72,38.9 401.24,41.1 405.77,43.42 410.29,45.86 414.82,48.41 419.35,51.08 423.87,53.88 428.4,56.8 432.92,59.85 437.45,63.04 441.97,66.36 446.5,69.82" fill="none" stroke="#ff3333" stroke-width="0.75" stroke-dasharray="2.6 0.7" stroke-linejoin="round"/>
<polyline points="270,10.3 281,54.5 286.3,70 307.4,142 307.8,146" fill="none" stroke="#ffff00" stroke-width="0.65" stroke-linejoin="round"/>
<circle cx="271.42" cy="16" r="0.9" fill="#e8e800"/>
<circle cx="273.66" cy="25" r="0.9" fill="#e8e800"/>
<circle cx="275.9" cy="34" r="0.9" fill="#e8e800"/>
<circle cx="278.14" cy="43" r="0.9" fill="#e8e800"/>
<circle cx="280.38" cy="52" r="0.9" fill="#e8e800"/>
<circle cx="283.22" cy="61" r="0.9" fill="#e8e800"/>
<circle cx="286.3" cy="70" r="0.9" fill="#e8e800"/>
<circle cx="288.94" cy="79" r="0.9" fill="#e8e800"/>
<circle cx="291.57" cy="88" r="0.9" fill="#e8e800"/>
<circle cx="294.21" cy="97" r="0.9" fill="#e8e800"/>
<circle cx="296.85" cy="106" r="0.9" fill="#e8e800"/>
<circle cx="299.49" cy="115" r="0.9" fill="#e8e800"/>
<circle cx="302.12" cy="124" r="0.9" fill="#e8e800"/>
<circle cx="304.76" cy="133" r="0.9" fill="#e8e800"/>
<circle cx="307.4" cy="142" r="0.9" fill="#e8e800"/>
<polyline points="270,10.3 270.1,15 272,24 273.6,32.7 275.5,44 277.4,54.5 279.8,71.7 281.6,77.3 282.9,81.9 284.3,88.6 285.5,99.1 287.1,106.3 288.2,113.6 289.9,120.9 291.2,126 292.4,132.8 294.6,140.9 295,143" fill="none" stroke="#000000" stroke-width="0.65" stroke-linejoin="round"/>
<path d="M270.1 13.1l1.6 2.8h-3.2z" fill="#333" stroke="#000" stroke-width="0.5"/>
<path d="M272 22.1l1.6 2.8h-3.2z" fill="#333" stroke="#000" stroke-width="0.5"/>
<path d="M273.6 30.8l1.6 2.8h-3.2z" fill="#333" stroke="#000" stroke-width="0.5"/>
<path d="M275.5 42.1l1.6 2.8h-3.2z" fill="#333" stroke="#000" stroke-width="0.5"/>
<path d="M277.4 52.6l1.6 2.8h-3.2z" fill="#333" stroke="#000" stroke-width="0.5"/>
<path d="M279.8 69.8l1.6 2.8h-3.2z" fill="#333" stroke="#000" stroke-width="0.5"/>
<path d="M281.6 75.4l1.6 2.8h-3.2z" fill="#333" stroke="#000" stroke-width="0.5"/>
<path d="M282.9 80l1.6 2.8h-3.2z" fill="#333" stroke="#000" stroke-width="0.5"/>
<path d="M284.3 86.7l1.6 2.8h-3.2z" fill="#333" stroke="#000" stroke-width="0.5"/>
<path d="M285.5 97.2l1.6 2.8h-3.2z" fill="#333" stroke="#000" stroke-width="0.5"/>
<path d="M287.1 104.4l1.6 2.8h-3.2z" fill="#333" stroke="#000" stroke-width="0.5"/>
<path d="M288.2 111.7l1.6 2.8h-3.2z" fill="#333" stroke="#000" stroke-width="0.5"/>
<path d="M289.9 119l1.6 2.8h-3.2z" fill="#333" stroke="#000" stroke-width="0.5"/>
<path d="M291.2 124.1l1.6 2.8h-3.2z" fill="#333" stroke="#000" stroke-width="0.5"/>
<path d="M292.4 130.9l1.6 2.8h-3.2z" fill="#333" stroke="#000" stroke-width="0.5"/>
<path d="M294.6 139l1.6 2.8h-3.2z" fill="#333" stroke="#000" stroke-width="0.5"/>
</g>
<rect x="386.6" y="85.9" width="45.5" height="55.5" fill="#fff" stroke="#9a9a9a" stroke-width="0.7"/>
<line x1="388.4" y1="90.4" x2="404.6" y2="90.4" stroke="#ff0000" stroke-width="0.65"/>
<circle cx="396.5" cy="90.4" r="1.1" fill="#e00000"/>
<text x="406.2" y="92.2" font-family='"Liberation Sans", sans-serif' font-size="4.85" fill="#333333">BOA</text>
<line x1="388.4" y1="97.08" x2="404.6" y2="97.08" stroke="#ff3333" stroke-width="0.7" stroke-dasharray="1.6 1"/>
<text x="406.2" y="98.88" font-family='"Liberation Sans", sans-serif' font-size="4.85" fill="#333333">HPSOBOA</text>
<line x1="388.4" y1="103.76" x2="404.6" y2="103.76" stroke="#00ffff" stroke-width="0.65"/>
<circle cx="396.5" cy="103.76" r="1.55" fill="#b0ffff" stroke="#00ffff" stroke-width="0.8"/>
<text x="406.2" y="105.56" font-family='"Liberation Sans", sans-serif' font-size="4.85" fill="#333333">COOT</text>
<line x1="388.4" y1="110.44" x2="404.6" y2="110.44" stroke="#ff00ff" stroke-width="0.65"/>
<path d="M395.4 110.44h2.2M396.5 109.34v2.2" stroke="#ff00ff" stroke-width="0.7"/>
<text x="406.2" y="112.24" font-family='"Liberation Sans", sans-serif' font-size="4.85" fill="#333333">PSO</text>
<line x1="388.4" y1="117.12" x2="404.6" y2="117.12" stroke="#00ff00" stroke-width="0.65"/>
<path d="M396.5 115.22l1.5 1.9l-1.5 1.9l-1.5 -1.9z" fill="#40e040" stroke="#00ff00" stroke-width="0.6"/>
<text x="406.2" y="118.92" font-family='"Liberation Sans", sans-serif' font-size="4.85" fill="#333333">GWO</text>
<line x1="388.4" y1="123.8" x2="404.6" y2="123.8" stroke="#0000ff" stroke-width="0.65"/>
<ellipse cx="396.5" cy="123.8" rx="1.7" ry="1.45" fill="#5050ff" stroke="#0000ff" stroke-width="0.7"/>
<text x="406.2" y="125.6" font-family='"Liberation Sans", sans-serif' font-size="4.85" fill="#333333">SCA</text>
<line x1="388.4" y1="130.48" x2="404.6" y2="130.48" stroke="#ffff00" stroke-width="0.65"/>
<circle cx="396.5" cy="130.48" r="0.9" fill="#e8e800"/>
<text x="406.2" y="132.28" font-family='"Liberation Sans", sans-serif' font-size="4.85" fill="#333333">BES</text>
<line x1="388.4" y1="137.16" x2="404.6" y2="137.16" stroke="#000000" stroke-width="0.65"/>
<path d="M396.5 135.26l1.6 2.8h-3.2z" fill="#333" stroke="#000" stroke-width="0.5"/>
<text x="406.2" y="138.96" font-family='"Liberation Sans", sans-serif' font-size="4.85" fill="#333333">HBES</text>
<g font-family='"Liberation Sans", sans-serif' font-size="5.6" fill="#333333"><text x="30.5" y="338.3" text-anchor="middle">0</text><text x="65.9" y="338.3" text-anchor="middle">100</text><text x="101.3" y="338.3" text-anchor="middle">200</text><text x="136.7" y="338.3" text-anchor="middle">300</text><text x="172.1" y="338.3" text-anchor="middle">400</text><text x="207.5" y="338.3" text-anchor="middle">500</text><text x="28.5" y="196.7" text-anchor="end">10<tspan dy="-3.0" font-size="4.3">0</tspan></text><text x="28.5" y="239" text-anchor="end">10<tspan dy="-3.0" font-size="4.3">-100</tspan></text><text x="28.5" y="281.3" text-anchor="end">10<tspan dy="-3.0" font-size="4.3">-200</tspan></text><text x="28.5" y="323.6" text-anchor="end">10<tspan dy="-3.0" font-size="4.3">-300</tspan></text></g>
<text x="119" y="346" text-anchor="middle" font-family='"Liberation Sans", sans-serif' font-size="6.0" fill="#333333">Iteration</text>
<text transform="translate(11.04 260) rotate(-90)" text-anchor="middle" font-family='"Liberation Sans", sans-serif' font-size="6.0" fill="#333333">Best score obtained so far</text>
<text x="114.6" y="359.7" text-anchor="middle" font-family='"Liberation Serif", serif' font-size="10" font-weight="bold" fill="#111" class="sub">(c)</text>
<rect x="30.5" y="190" width="177" height="140.3" fill="none" stroke="#9a9a9a" stroke-width="0.7"/>
<path d="M30.5 330.3v-1.8 M30.5 190v1.8 M65.9 330.3v-1.8 M65.9 190v1.8 M101.3 330.3v-1.8 M101.3 190v1.8 M136.7 330.3v-1.8 M136.7 190v1.8 M172.1 330.3v-1.8 M172.1 190v1.8 M207.5 330.3v-1.8 M207.5 190v1.8 M30.5 193.5h1.8 M207.5 193.5h-1.8 M30.5 235.8h1.8 M207.5 235.8h-1.8 M30.5 278.1h1.8 M207.5 278.1h-1.8 M30.5 320.4h1.8 M207.5 320.4h-1.8 M30.5 328.86h1 M207.5 328.86h-1 M30.5 324.63h1 M207.5 324.63h-1 M30.5 316.17h1 M207.5 316.17h-1 M30.5 311.94h1 M207.5 311.94h-1 M30.5 307.71h1 M207.5 307.71h-1 M30.5 303.48h1 M207.5 303.48h-1 M30.5 299.25h1 M207.5 299.25h-1 M30.5 295.02h1 M207.5 295.02h-1 M30.5 290.79h1 M207.5 290.79h-1 M30.5 286.56h1 M207.5 286.56h-1 M30.5 282.33h1 M207.5 282.33h-1 M30.5 273.87h1 M207.5 273.87h-1 M30.5 269.64h1 M207.5 269.64h-1 M30.5 265.41h1 M207.5 265.41h-1 M30.5 261.18h1 M207.5 261.18h-1 M30.5 256.95h1 M207.5 256.95h-1 M30.5 252.72h1 M207.5 252.72h-1 M30.5 248.49h1 M207.5 248.49h-1 M30.5 244.26h1 M207.5 244.26h-1 M30.5 240.03h1 M207.5 240.03h-1 M30.5 231.57h1 M207.5 231.57h-1 M30.5 227.34h1 M207.5 227.34h-1 M30.5 223.11h1 M207.5 223.11h-1 M30.5 218.88h1 M207.5 218.88h-1 M30.5 214.65h1 M207.5 214.65h-1 M30.5 210.42h1 M207.5 210.42h-1 M30.5 206.19h1 M207.5 206.19h-1 M30.5 201.96h1 M207.5 201.96h-1 M30.5 197.73h1 M207.5 197.73h-1" stroke="#9a9a9a" stroke-width="0.5" fill="none"/>
<clipPath id="cc"><rect x="28.5" y="188" width="181" height="144.3"/></clipPath>
<g clip-path="url(#cc)">
<polyline points="30.5,190.5 207.5,191.2" fill="none" stroke="#0000ff" stroke-width="0.65" stroke-linejoin="round"/>
<ellipse cx="30.5" cy="190.5" rx="1.7" ry="1.45" fill="#5050ff" stroke="#0000ff" stroke-width="0.7"/>
<ellipse cx="37.58" cy="190.53" rx="1.7" ry="1.45" fill="#5050ff" stroke="#0000ff" stroke-width="0.7"/>
<ellipse cx="44.66" cy="190.56" rx="1.7" ry="1.45" fill="#5050ff" stroke="#0000ff" stroke-width="0.7"/>
<ellipse cx="51.74" cy="190.58" rx="1.7" ry="1.45" fill="#5050ff" stroke="#0000ff" stroke-width="0.7"/>
<ellipse cx="58.82" cy="190.61" rx="1.7" ry="1.45" fill="#5050ff" stroke="#0000ff" stroke-width="0.7"/>
<ellipse cx="65.9" cy="190.64" rx="1.7" ry="1.45" fill="#5050ff" stroke="#0000ff" stroke-width="0.7"/>
<ellipse cx="72.98" cy="190.67" rx="1.7" ry="1.45" fill="#5050ff" stroke="#0000ff" stroke-width="0.7"/>
<ellipse cx="80.06" cy="190.7" rx="1.7" ry="1.45" fill="#5050ff" stroke="#0000ff" stroke-width="0.7"/>
<ellipse cx="87.14" cy="190.72" rx="1.7" ry="1.45" fill="#5050ff" stroke="#0000ff" stroke-width="0.7"/>
<ellipse cx="94.22" cy="190.75" rx="1.7" ry="1.45" fill="#5050ff" stroke="#0000ff" stroke-width="0.7"/>
<ellipse cx="101.3" cy="190.78" rx="1.7" ry="1.45" fill="#5050ff" stroke="#0000ff" stroke-width="0.7"/>
<ellipse cx="108.38" cy="190.81" rx="1.7" ry="1.45" fill="#5050ff" stroke="#0000ff" stroke-width="0.7"/>
<ellipse cx="115.46" cy="190.84" rx="1.7" ry="1.45" fill="#5050ff" stroke="#0000ff" stroke-width="0.7"/>
<ellipse cx="122.54" cy="190.86" rx="1.7" ry="1.45" fill="#5050ff" stroke="#0000ff" stroke-width="0.7"/>
<ellipse cx="129.62" cy="190.89" rx="1.7" ry="1.45" fill="#5050ff" stroke="#0000ff" stroke-width="0.7"/>
<ellipse cx="136.7" cy="190.92" rx="1.7" ry="1.45" fill="#5050ff" stroke="#0000ff" stroke-width="0.7"/>
<ellipse cx="143.78" cy="190.95" rx="1.7" ry="1.45" fill="#5050ff" stroke="#0000ff" stroke-width="0.7"/>
<ellipse cx="150.86" cy="190.98" rx="1.7" ry="1.45" fill="#5050ff" stroke="#0000ff" stroke-width="0.7"/>
<ellipse cx="157.94" cy="191" rx="1.7" ry="1.45" fill="#5050ff" stroke="#0000ff" stroke-width="0.7"/>
<ellipse cx="165.02" cy="191.03" rx="1.7" ry="1.45" fill="#5050ff" stroke="#0000ff" stroke-width="0.7"/>
<ellipse cx="172.1" cy="191.06" rx="1.7" ry="1.45" fill="#5050ff" stroke="#0000ff" stroke-width="0.7"/>
<ellipse cx="179.18" cy="191.09" rx="1.7" ry="1.45" fill="#5050ff" stroke="#0000ff" stroke-width="0.7"/>
<ellipse cx="186.26" cy="191.12" rx="1.7" ry="1.45" fill="#5050ff" stroke="#0000ff" stroke-width="0.7"/>
<ellipse cx="193.34" cy="191.14" rx="1.7" ry="1.45" fill="#5050ff" stroke="#0000ff" stroke-width="0.7"/>
<ellipse cx="200.42" cy="191.17" rx="1.7" ry="1.45" fill="#5050ff" stroke="#0000ff" stroke-width="0.7"/>
<polyline points="30.5,190.5 128,192 207.5,193.2" fill="none" stroke="#ff00ff" stroke-width="0.65" stroke-linejoin="round"/>
<path d="M29.4 190.5h2.2M30.5 189.4v2.2" stroke="#ff00ff" stroke-width="0.7"/>
<path d="M36.48 190.61h2.2M37.58 189.51v2.2" stroke="#ff00ff" stroke-width="0.7"/>
<path d="M43.56 190.72h2.2M44.66 189.62v2.2" stroke="#ff00ff" stroke-width="0.7"/>
<path d="M50.64 190.83h2.2M51.74 189.73v2.2" stroke="#ff00ff" stroke-width="0.7"/>
<path d="M57.72 190.94h2.2M58.82 189.84v2.2" stroke="#ff00ff" stroke-width="0.7"/>
<path d="M64.8 191.04h2.2M65.9 189.94v2.2" stroke="#ff00ff" stroke-width="0.7"/>
<path d="M71.88 191.15h2.2M72.98 190.05v2.2" stroke="#ff00ff" stroke-width="0.7"/>
<path d="M78.96 191.26h2.2M80.06 190.16v2.2" stroke="#ff00ff" stroke-width="0.7"/>
<path d="M86.04 191.37h2.2M87.14 190.27v2.2" stroke="#ff00ff" stroke-width="0.7"/>
<path d="M93.12 191.48h2.2M94.22 190.38v2.2" stroke="#ff00ff" stroke-width="0.7"/>
<path d="M100.2 191.59h2.2M101.3 190.49v2.2" stroke="#ff00ff" stroke-width="0.7"/>
<path d="M107.28 191.7h2.2M108.38 190.6v2.2" stroke="#ff00ff" stroke-width="0.7"/>
<path d="M114.36 191.81h2.2M115.46 190.71v2.2" stroke="#ff00ff" stroke-width="0.7"/>
<path d="M121.44 191.92h2.2M122.54 190.82v2.2" stroke="#ff00ff" stroke-width="0.7"/>
<path d="M128.52 192.02h2.2M129.62 190.92v2.2" stroke="#ff00ff" stroke-width="0.7"/>
<path d="M135.6 192.13h2.2M136.7 191.03v2.2" stroke="#ff00ff" stroke-width="0.7"/>
<path d="M142.68 192.24h2.2M143.78 191.14v2.2" stroke="#ff00ff" stroke-width="0.7"/>
<path d="M149.76 192.35h2.2M150.86 191.25v2.2" stroke="#ff00ff" stroke-width="0.7"/>
<path d="M156.84 192.45h2.2M157.94 191.35v2.2" stroke="#ff00ff" stroke-width="0.7"/>
<path d="M163.92 192.56h2.2M165.02 191.46v2.2" stroke="#ff00ff" stroke-width="0.7"/>
<path d="M171 192.67h2.2M172.1 191.57v2.2" stroke="#ff00ff" stroke-width="0.7"/>
<path d="M178.08 192.77h2.2M179.18 191.67v2.2" stroke="#ff00ff" stroke-width="0.7"/>
<path d="M185.16 192.88h2.2M186.26 191.78v2.2" stroke="#ff00ff" stroke-width="0.7"/>
<path d="M192.24 192.99h2.2M193.34 191.89v2.2" stroke="#ff00ff" stroke-width="0.7"/>
<path d="M199.32 193.09h2.2M200.42 191.99v2.2" stroke="#ff00ff" stroke-width="0.7"/>
<polyline points="30.5,190.5 128,194.9 207.5,195.4" fill="none" stroke="#00ff00" stroke-width="0.65" stroke-linejoin="round"/>
<path d="M30.5 188.6l1.5 1.9l-1.5 1.9l-1.5 -1.9z" fill="#40e040" stroke="#00ff00" stroke-width="0.6"/>
<path d="M37.58 188.92l1.5 1.9l-1.5 1.9l-1.5 -1.9z" fill="#40e040" stroke="#00ff00" stroke-width="0.6"/>
<path d="M44.66 189.24l1.5 1.9l-1.5 1.9l-1.5 -1.9z" fill="#40e040" stroke="#00ff00" stroke-width="0.6"/>
<path d="M51.74 189.56l1.5 1.9l-1.5 1.9l-1.5 -1.9z" fill="#40e040" stroke="#00ff00" stroke-width="0.6"/>
<path d="M58.82 189.88l1.5 1.9l-1.5 1.9l-1.5 -1.9z" fill="#40e040" stroke="#00ff00" stroke-width="0.6"/>
<path d="M65.9 190.2l1.5 1.9l-1.5 1.9l-1.5 -1.9z" fill="#40e040" stroke="#00ff00" stroke-width="0.6"/>
<path d="M72.98 190.52l1.5 1.9l-1.5 1.9l-1.5 -1.9z" fill="#40e040" stroke="#00ff00" stroke-width="0.6"/>
<path d="M80.06 190.84l1.5 1.9l-1.5 1.9l-1.5 -1.9z" fill="#40e040" stroke="#00ff00" stroke-width="0.6"/>
<path d="M87.14 191.16l1.5 1.9l-1.5 1.9l-1.5 -1.9z" fill="#40e040" stroke="#00ff00" stroke-width="0.6"/>
<path d="M94.22 191.48l1.5 1.9l-1.5 1.9l-1.5 -1.9z" fill="#40e040" stroke="#00ff00" stroke-width="0.6"/>
<path d="M101.3 191.8l1.5 1.9l-1.5 1.9l-1.5 -1.9z" fill="#40e040" stroke="#00ff00" stroke-width="0.6"/>
<path d="M108.38 192.11l1.5 1.9l-1.5 1.9l-1.5 -1.9z" fill="#40e040" stroke="#00ff00" stroke-width="0.6"/>
<path d="M115.46 192.43l1.5 1.9l-1.5 1.9l-1.5 -1.9z" fill="#40e040" stroke="#00ff00" stroke-width="0.6"/>
<path d="M122.54 192.75l1.5 1.9l-1.5 1.9l-1.5 -1.9z" fill="#40e040" stroke="#00ff00" stroke-width="0.6"/>
<path d="M129.62 193.01l1.5 1.9l-1.5 1.9l-1.5 -1.9z" fill="#40e040" stroke="#00ff00" stroke-width="0.6"/>
<path d="M136.7 193.05l1.5 1.9l-1.5 1.9l-1.5 -1.9z" fill="#40e040" stroke="#00ff00" stroke-width="0.6"/>
<path d="M143.78 193.1l1.5 1.9l-1.5 1.9l-1.5 -1.9z" fill="#40e040" stroke="#00ff00" stroke-width="0.6"/>
<path d="M150.86 193.14l1.5 1.9l-1.5 1.9l-1.5 -1.9z" fill="#40e040" stroke="#00ff00" stroke-width="0.6"/>
<path d="M157.94 193.19l1.5 1.9l-1.5 1.9l-1.5 -1.9z" fill="#40e040" stroke="#00ff00" stroke-width="0.6"/>
<path d="M165.02 193.23l1.5 1.9l-1.5 1.9l-1.5 -1.9z" fill="#40e040" stroke="#00ff00" stroke-width="0.6"/>
<path d="M172.1 193.28l1.5 1.9l-1.5 1.9l-1.5 -1.9z" fill="#40e040" stroke="#00ff00" stroke-width="0.6"/>
<path d="M179.18 193.32l1.5 1.9l-1.5 1.9l-1.5 -1.9z" fill="#40e040" stroke="#00ff00" stroke-width="0.6"/>
<path d="M186.26 193.37l1.5 1.9l-1.5 1.9l-1.5 -1.9z" fill="#40e040" stroke="#00ff00" stroke-width="0.6"/>
<path d="M193.34 193.41l1.5 1.9l-1.5 1.9l-1.5 -1.9z" fill="#40e040" stroke="#00ff00" stroke-width="0.6"/>
<path d="M200.42 193.46l1.5 1.9l-1.5 1.9l-1.5 -1.9z" fill="#40e040" stroke="#00ff00" stroke-width="0.6"/>
<polyline points="30.5,190.5 128,195.5 207.5,197.5" fill="none" stroke="#ff0000" stroke-width="0.65" stroke-linejoin="round"/>
<circle cx="30.5" cy="190.5" r="1.1" fill="#e00000"/>
<circle cx="37.58" cy="190.86" r="1.1" fill="#e00000"/>
<circle cx="44.66" cy="191.23" r="1.1" fill="#e00000"/>
<circle cx="51.74" cy="191.59" r="1.1" fill="#e00000"/>
<circle cx="58.82" cy="191.95" r="1.1" fill="#e00000"/>
<circle cx="65.9" cy="192.32" r="1.1" fill="#e00000"/>
<circle cx="72.98" cy="192.68" r="1.1" fill="#e00000"/>
<circle cx="80.06" cy="193.04" r="1.1" fill="#e00000"/>
<circle cx="87.14" cy="193.4" r="1.1" fill="#e00000"/>
<circle cx="94.22" cy="193.77" r="1.1" fill="#e00000"/>
<circle cx="101.3" cy="194.13" r="1.1" fill="#e00000"/>
<circle cx="108.38" cy="194.49" r="1.1" fill="#e00000"/>
<circle cx="115.46" cy="194.86" r="1.1" fill="#e00000"/>
<circle cx="122.54" cy="195.22" r="1.1" fill="#e00000"/>
<circle cx="129.62" cy="195.54" r="1.1" fill="#e00000"/>
<circle cx="136.7" cy="195.72" r="1.1" fill="#e00000"/>
<circle cx="143.78" cy="195.9" r="1.1" fill="#e00000"/>
<circle cx="150.86" cy="196.08" r="1.1" fill="#e00000"/>
<circle cx="157.94" cy="196.25" r="1.1" fill="#e00000"/>
<circle cx="165.02" cy="196.43" r="1.1" fill="#e00000"/>
<circle cx="172.1" cy="196.61" r="1.1" fill="#e00000"/>
<circle cx="179.18" cy="196.79" r="1.1" fill="#e00000"/>
<circle cx="186.26" cy="196.97" r="1.1" fill="#e00000"/>
<circle cx="193.34" cy="197.14" r="1.1" fill="#e00000"/>
<circle cx="200.42" cy="197.32" r="1.1" fill="#e00000"/>
<polyline points="30.5,190.5 45,191.3 60,192.8 72,194.3 94,197.6 100,198.3 120,200.5 143.5,203.1 148,204.8 172.5,205.5 177.3,209.2 193,210.5 206.3,212.8 207.5,213" fill="none" stroke="#00ffff" stroke-width="0.65" stroke-linejoin="round"/>
<circle cx="30.5" cy="190.5" r="1.55" fill="#b0ffff" stroke="#00ffff" stroke-width="0.8"/>
<circle cx="37.58" cy="190.89" r="1.55" fill="#b0ffff" stroke="#00ffff" stroke-width="0.8"/>
<circle cx="44.66" cy="191.28" r="1.55" fill="#b0ffff" stroke="#00ffff" stroke-width="0.8"/>
<circle cx="51.74" cy="191.97" r="1.55" fill="#b0ffff" stroke="#00ffff" stroke-width="0.8"/>
<circle cx="58.82" cy="192.68" r="1.55" fill="#b0ffff" stroke="#00ffff" stroke-width="0.8"/>
<circle cx="65.9" cy="193.54" r="1.55" fill="#b0ffff" stroke="#00ffff" stroke-width="0.8"/>
<circle cx="72.98" cy="194.45" r="1.55" fill="#b0ffff" stroke="#00ffff" stroke-width="0.8"/>
<circle cx="80.06" cy="195.51" r="1.55" fill="#b0ffff" stroke="#00ffff" stroke-width="0.8"/>
<circle cx="87.14" cy="196.57" r="1.55" fill="#b0ffff" stroke="#00ffff" stroke-width="0.8"/>
<circle cx="94.22" cy="197.63" r="1.55" fill="#b0ffff" stroke="#00ffff" stroke-width="0.8"/>
<circle cx="101.3" cy="198.44" r="1.55" fill="#b0ffff" stroke="#00ffff" stroke-width="0.8"/>
<circle cx="108.38" cy="199.22" r="1.55" fill="#b0ffff" stroke="#00ffff" stroke-width="0.8"/>
<circle cx="115.46" cy="200" r="1.55" fill="#b0ffff" stroke="#00ffff" stroke-width="0.8"/>
<circle cx="122.54" cy="200.78" r="1.55" fill="#b0ffff" stroke="#00ffff" stroke-width="0.8"/>
<circle cx="129.62" cy="201.56" r="1.55" fill="#b0ffff" stroke="#00ffff" stroke-width="0.8"/>
<circle cx="136.7" cy="202.35" r="1.55" fill="#b0ffff" stroke="#00ffff" stroke-width="0.8"/>
<circle cx="143.78" cy="203.21" r="1.55" fill="#b0ffff" stroke="#00ffff" stroke-width="0.8"/>
<circle cx="150.86" cy="204.88" r="1.55" fill="#b0ffff" stroke="#00ffff" stroke-width="0.8"/>
<circle cx="157.94" cy="205.08" r="1.55" fill="#b0ffff" stroke="#00ffff" stroke-width="0.8"/>
<circle cx="165.02" cy="205.29" r="1.55" fill="#b0ffff" stroke="#00ffff" stroke-width="0.8"/>
<circle cx="172.1" cy="205.49" r="1.55" fill="#b0ffff" stroke="#00ffff" stroke-width="0.8"/>
<circle cx="179.18" cy="209.36" r="1.55" fill="#b0ffff" stroke="#00ffff" stroke-width="0.8"/>
<circle cx="186.26" cy="209.94" r="1.55" fill="#b0ffff" stroke="#00ffff" stroke-width="0.8"/>
<circle cx="193.34" cy="210.56" r="1.55" fill="#b0ffff" stroke="#00ffff" stroke-width="0.8"/>
<circle cx="200.42" cy="211.78" r="1.55" fill="#b0ffff" stroke="#00ffff" stroke-width="0.8"/>
<polyline points="30.5,189.91 35.04,190.96 39.59,192.04 44.13,193.13 48.67,194.26 53.22,195.43 57.76,196.65 62.31,197.92 66.85,199.26 71.39,200.67 75.94,202.17 80.48,203.75 85.02,205.42 89.57,207.21 94.11,209.11 98.65,211.12 103.2,213.27 107.74,215.56 112.28,217.99 116.83,220.57 121.37,223.32 125.92,226.24 130.46,229.34 135,232.62 139.55,236.1 144.09,239.78 148.63,243.67 153.18,247.78 157.72,252.12 162.26,256.7 166.81,261.51 171.35,266.58 175.89,271.91 180.44,277.51 184.98,283.38 189.53,289.54 194.07,295.99 198.61,302.74 203.16,309.8 207.7,317.17" fill="none" stroke="#ff3333" stroke-width="0.75" stroke-dasharray="2.6 0.7" stroke-linejoin="round"/>
<polyline points="30.5,190.5 35.2,230 38.4,249 44.2,287.4 48,306.5 50.5,328.5" fill="none" stroke="#ffff00" stroke-width="0.65" stroke-linejoin="round"/>
<circle cx="31.63" cy="200" r="0.9" fill="#e8e800"/>
<circle cx="32.76" cy="209.5" r="0.9" fill="#e8e800"/>
<circle cx="33.89" cy="219" r="0.9" fill="#e8e800"/>
<circle cx="35.02" cy="228.5" r="0.9" fill="#e8e800"/>
<circle cx="36.55" cy="238" r="0.9" fill="#e8e800"/>
<circle cx="38.15" cy="247.5" r="0.9" fill="#e8e800"/>
<circle cx="39.61" cy="257" r="0.9" fill="#e8e800"/>
<circle cx="41.04" cy="266.5" r="0.9" fill="#e8e800"/>
<circle cx="42.48" cy="276" r="0.9" fill="#e8e800"/>
<circle cx="43.91" cy="285.5" r="0.9" fill="#e8e800"/>
<circle cx="45.71" cy="295" r="0.9" fill="#e8e800"/>
<circle cx="47.6" cy="304.5" r="0.9" fill="#e8e800"/>
<circle cx="48.85" cy="314" r="0.9" fill="#e8e800"/>
<circle cx="49.93" cy="323.5" r="0.9" fill="#e8e800"/>
<polyline points="30.5,190.5 30.5,200.8 31.4,214.9 34.4,242 36.4,254.2 37.9,270 39.4,286 41,301 42,317 43,331" fill="none" stroke="#000000" stroke-width="0.65" stroke-linejoin="round"/>
<path d="M30.5 198.9l1.6 2.8h-3.2z" fill="#333" stroke="#000" stroke-width="0.5"/>
<path d="M31.4 213l1.6 2.8h-3.2z" fill="#333" stroke="#000" stroke-width="0.5"/>
<path d="M34.4 240.1l1.6 2.8h-3.2z" fill="#333" stroke="#000" stroke-width="0.5"/>
<path d="M36.4 252.3l1.6 2.8h-3.2z" fill="#333" stroke="#000" stroke-width="0.5"/>
<path d="M37.9 268.1l1.6 2.8h-3.2z" fill="#333" stroke="#000" stroke-width="0.5"/>
<path d="M39.4 284.1l1.6 2.8h-3.2z" fill="#333" stroke="#000" stroke-width="0.5"/>
<path d="M41 299.1l1.6 2.8h-3.2z" fill="#333" stroke="#000" stroke-width="0.5"/>
<path d="M42 315.1l1.6 2.8h-3.2z" fill="#333" stroke="#000" stroke-width="0.5"/>
</g>
<rect x="118.3" y="274.8" width="45.5" height="55.5" fill="#fff" stroke="#9a9a9a" stroke-width="0.7"/>
<line x1="120.1" y1="279.3" x2="136.3" y2="279.3" stroke="#ff0000" stroke-width="0.65"/>
<circle cx="128.2" cy="279.3" r="1.1" fill="#e00000"/>
<text x="137.9" y="281.1" font-family='"Liberation Sans", sans-serif' font-size="4.85" fill="#333333">BOA</text>
<line x1="120.1" y1="285.98" x2="136.3" y2="285.98" stroke="#ff3333" stroke-width="0.7" stroke-dasharray="1.6 1"/>
<text x="137.9" y="287.78" font-family='"Liberation Sans", sans-serif' font-size="4.85" fill="#333333">HPSOBOA</text>
<line x1="120.1" y1="292.66" x2="136.3" y2="292.66" stroke="#00ffff" stroke-width="0.65"/>
<circle cx="128.2" cy="292.66" r="1.55" fill="#b0ffff" stroke="#00ffff" stroke-width="0.8"/>
<text x="137.9" y="294.46" font-family='"Liberation Sans", sans-serif' font-size="4.85" fill="#333333">COOT</text>
<line x1="120.1" y1="299.34" x2="136.3" y2="299.34" stroke="#ff00ff" stroke-width="0.65"/>
<path d="M127.1 299.34h2.2M128.2 298.24v2.2" stroke="#ff00ff" stroke-width="0.7"/>
<text x="137.9" y="301.14" font-family='"Liberation Sans", sans-serif' font-size="4.85" fill="#333333">PSO</text>
<line x1="120.1" y1="306.02" x2="136.3" y2="306.02" stroke="#00ff00" stroke-width="0.65"/>
<path d="M128.2 304.12l1.5 1.9l-1.5 1.9l-1.5 -1.9z" fill="#40e040" stroke="#00ff00" stroke-width="0.6"/>
<text x="137.9" y="307.82" font-family='"Liberation Sans", sans-serif' font-size="4.85" fill="#333333">GWO</text>
<line x1="120.1" y1="312.7" x2="136.3" y2="312.7" stroke="#0000ff" stroke-width="0.65"/>
<ellipse cx="128.2" cy="312.7" rx="1.7" ry="1.45" fill="#5050ff" stroke="#0000ff" stroke-width="0.7"/>
<text x="137.9" y="314.5" font-family='"Liberation Sans", sans-serif' font-size="4.85" fill="#333333">SCA</text>
<line x1="120.1" y1="319.38" x2="136.3" y2="319.38" stroke="#ffff00" stroke-width="0.65"/>
<circle cx="128.2" cy="319.38" r="0.9" fill="#e8e800"/>
<text x="137.9" y="321.18" font-family='"Liberation Sans", sans-serif' font-size="4.85" fill="#333333">BES</text>
<line x1="120.1" y1="326.06" x2="136.3" y2="326.06" stroke="#000000" stroke-width="0.65"/>
<path d="M128.2 324.16l1.6 2.8h-3.2z" fill="#333" stroke="#000" stroke-width="0.5"/>
<text x="137.9" y="327.86" font-family='"Liberation Sans", sans-serif' font-size="4.85" fill="#333333">HBES</text>
<g font-family='"Liberation Sans", sans-serif' font-size="5.6" fill="#333333"><text x="269.5" y="338" text-anchor="middle">0</text><text x="305" y="338" text-anchor="middle">100</text><text x="340.5" y="338" text-anchor="middle">200</text><text x="376" y="338" text-anchor="middle">300</text><text x="411.5" y="338" text-anchor="middle">400</text><text x="447" y="338" text-anchor="middle">500</text><text x="267.5" y="195" text-anchor="end">10<tspan dy="-3.0" font-size="4.3">10</tspan></text><text x="267.5" y="239.6" text-anchor="end">10<tspan dy="-3.0" font-size="4.3">5</tspan></text><text x="267.5" y="284.2" text-anchor="end">10<tspan dy="-3.0" font-size="4.3">0</tspan></text><text x="267.5" y="328.8" text-anchor="end">10<tspan dy="-3.0" font-size="4.3">-5</tspan></text></g>
<text x="358.25" y="345.7" text-anchor="middle" font-family='"Liberation Sans", sans-serif' font-size="6.0" fill="#333333">Iteration</text>
<text transform="translate(253.9 260) rotate(-90)" text-anchor="middle" font-family='"Liberation Sans", sans-serif' font-size="6.0" fill="#333333">Best score obtained so far</text>
<text x="354.3" y="359.3" text-anchor="middle" font-family='"Liberation Serif", serif' font-size="10" font-weight="bold" fill="#111" class="sub">(d)</text>
<rect x="269.5" y="191" width="177.5" height="139" fill="none" stroke="#9a9a9a" stroke-width="0.7"/>
<path d="M269.5 330v-1.8 M269.5 191v1.8 M305 330v-1.8 M305 191v1.8 M340.5 330v-1.8 M340.5 191v1.8 M376 330v-1.8 M376 191v1.8 M411.5 330v-1.8 M411.5 191v1.8 M447 330v-1.8 M447 191v1.8 M269.5 191.8h1.8 M447 191.8h-1.8 M269.5 236.4h1.8 M447 236.4h-1.8 M269.5 281h1.8 M447 281h-1.8 M269.5 325.6h1.8 M447 325.6h-1.8 M269.5 316.68h1 M447 316.68h-1 M269.5 307.76h1 M447 307.76h-1 M269.5 298.84h1 M447 298.84h-1 M269.5 289.92h1 M447 289.92h-1 M269.5 272.08h1 M447 272.08h-1 M269.5 263.16h1 M447 263.16h-1 M269.5 254.24h1 M447 254.24h-1 M269.5 245.32h1 M447 245.32h-1 M269.5 227.48h1 M447 227.48h-1 M269.5 218.56h1 M447 218.56h-1 M269.5 209.64h1 M447 209.64h-1 M269.5 200.72h1 M447 200.72h-1" stroke="#9a9a9a" stroke-width="0.5" fill="none"/>
<clipPath id="cd"><rect x="267.5" y="189" width="181.5" height="143"/></clipPath>
<g clip-path="url(#cd)">
<polyline points="269.5,191 271,194.1 330,194.1 331,195 346.4,195 350.7,199.3 353.6,205 357.9,209.3 362,212 408,220.7 417.9,220.7 417.9,225 430.7,225.3 430.7,226.4 447,226.4" fill="none" stroke="#0000ff" stroke-width="0.65" stroke-linejoin="round"/>
<ellipse cx="269.5" cy="191" rx="1.7" ry="1.45" fill="#5050ff" stroke="#0000ff" stroke-width="0.7"/>
<ellipse cx="276.6" cy="194.1" rx="1.7" ry="1.45" fill="#5050ff" stroke="#0000ff" stroke-width="0.7"/>
<ellipse cx="283.7" cy="194.1" rx="1.7" ry="1.45" fill="#5050ff" stroke="#0000ff" stroke-width="0.7"/>
<ellipse cx="290.8" cy="194.1" rx="1.7" ry="1.45" fill="#5050ff" stroke="#0000ff" stroke-width="0.7"/>
<ellipse cx="297.9" cy="194.1" rx="1.7" ry="1.45" fill="#5050ff" stroke="#0000ff" stroke-width="0.7"/>
<ellipse cx="305" cy="194.1" rx="1.7" ry="1.45" fill="#5050ff" stroke="#0000ff" stroke-width="0.7"/>
<ellipse cx="312.1" cy="194.1" rx="1.7" ry="1.45" fill="#5050ff" stroke="#0000ff" stroke-width="0.7"/>
<ellipse cx="319.2" cy="194.1" rx="1.7" ry="1.45" fill="#5050ff" stroke="#0000ff" stroke-width="0.7"/>
<ellipse cx="326.3" cy="194.1" rx="1.7" ry="1.45" fill="#5050ff" stroke="#0000ff" stroke-width="0.7"/>
<ellipse cx="333.4" cy="195" rx="1.7" ry="1.45" fill="#5050ff" stroke="#0000ff" stroke-width="0.7"/>
<ellipse cx="340.5" cy="195" rx="1.7" ry="1.45" fill="#5050ff" stroke="#0000ff" stroke-width="0.7"/>
<ellipse cx="347.6" cy="196.2" rx="1.7" ry="1.45" fill="#5050ff" stroke="#0000ff" stroke-width="0.7"/>
<ellipse cx="354.7" cy="206.1" rx="1.7" ry="1.45" fill="#5050ff" stroke="#0000ff" stroke-width="0.7"/>
<ellipse cx="361.8" cy="211.87" rx="1.7" ry="1.45" fill="#5050ff" stroke="#0000ff" stroke-width="0.7"/>
<ellipse cx="368.9" cy="213.31" rx="1.7" ry="1.45" fill="#5050ff" stroke="#0000ff" stroke-width="0.7"/>
<ellipse cx="376" cy="214.65" rx="1.7" ry="1.45" fill="#5050ff" stroke="#0000ff" stroke-width="0.7"/>
<ellipse cx="383.1" cy="215.99" rx="1.7" ry="1.45" fill="#5050ff" stroke="#0000ff" stroke-width="0.7"/>
<ellipse cx="390.2" cy="217.33" rx="1.7" ry="1.45" fill="#5050ff" stroke="#0000ff" stroke-width="0.7"/>
<ellipse cx="397.3" cy="218.68" rx="1.7" ry="1.45" fill="#5050ff" stroke="#0000ff" stroke-width="0.7"/>
<ellipse cx="404.4" cy="220.02" rx="1.7" ry="1.45" fill="#5050ff" stroke="#0000ff" stroke-width="0.7"/>
<ellipse cx="411.5" cy="220.7" rx="1.7" ry="1.45" fill="#5050ff" stroke="#0000ff" stroke-width="0.7"/>
<ellipse cx="418.6" cy="225.02" rx="1.7" ry="1.45" fill="#5050ff" stroke="#0000ff" stroke-width="0.7"/>
<ellipse cx="425.7" cy="225.18" rx="1.7" ry="1.45" fill="#5050ff" stroke="#0000ff" stroke-width="0.7"/>
<ellipse cx="432.8" cy="226.4" rx="1.7" ry="1.45" fill="#5050ff" stroke="#0000ff" stroke-width="0.7"/>
<ellipse cx="439.9" cy="226.4" rx="1.7" ry="1.45" fill="#5050ff" stroke="#0000ff" stroke-width="0.7"/>
<polyline points="269.5,191 270.6,191.27 272.01,191.54 273.69,191.86 275.58,192.26 277.64,192.78 279.81,193.47 282.05,194.36 284.3,195.5 286.73,196.98 289.46,198.8 292.37,200.86 295.33,203.07 298.24,205.33 300.96,207.54 303.39,209.59 305.4,211.4 306.96,212.98 308.16,214.42 309.09,215.77 309.83,217.04 310.46,218.26 311.06,219.46 311.71,220.66 312.5,221.9 313.38,223.13 314.26,224.3 315.13,225.44 316.01,226.58 316.88,227.74 317.75,228.95 318.63,230.23 319.5,231.6 320.38,233.09 321.25,234.68 322.12,236.34 323,238.04 323.88,239.77 324.75,241.49 325.62,243.17 326.5,244.8 327.38,246.4 328.26,248.01 329.15,249.61 330.03,251.19 330.91,252.74 331.79,254.23 332.65,255.66 333.5,257 334.32,258.23 335.12,259.37 335.9,260.42 336.68,261.43 337.46,262.42 338.27,263.41 339.11,264.42 340,265.5 340.95,266.66 341.97,267.88 343.02,269.14 344.09,270.4 345.17,271.63 346.22,272.79 347.24,273.86 348.2,274.8 349.08,275.61 349.9,276.32 350.68,276.94 351.44,277.5 352.2,278 353,278.46 353.86,278.89 354.8,279.3 355.8,279.67 356.82,279.95 357.88,280.18 358.99,280.39 360.14,280.59 361.36,280.8 362.64,281.07 364,281.4 365.46,281.82 367.02,282.3 368.66,282.82 370.35,283.36 372.07,283.9 373.81,284.42 375.52,284.9 377.2,285.3 378.74,285.64 380.13,285.92 381.46,286.17 382.81,286.39 384.29,286.6 385.99,286.79 387.99,286.99 390.4,287.2 393.28,287.42 396.57,287.65 400.18,287.87 404,288.09 407.93,288.29 411.88,288.48 415.73,288.65 419.4,288.8 423.11,288.92 427.05,289.01 431.07,289.09 435.01,289.15 438.73,289.2 442.07,289.24 444.88,289.27 447,289.3" fill="none" stroke="#ff00ff" stroke-width="0.65" stroke-linejoin="round"/>
<path d="M268.4 191h2.2M269.5 189.9v2.2" stroke="#ff00ff" stroke-width="0.7"/>
<path d="M275.5 192.52h2.2M276.6 191.42v2.2" stroke="#ff00ff" stroke-width="0.7"/>
<path d="M282.6 195.2h2.2M283.7 194.1v2.2" stroke="#ff00ff" stroke-width="0.7"/>
<path d="M289.7 199.75h2.2M290.8 198.65v2.2" stroke="#ff00ff" stroke-width="0.7"/>
<path d="M296.8 205.07h2.2M297.9 203.97v2.2" stroke="#ff00ff" stroke-width="0.7"/>
<path d="M303.9 211.04h2.2M305 209.94v2.2" stroke="#ff00ff" stroke-width="0.7"/>
<path d="M311 221.27h2.2M312.1 220.17v2.2" stroke="#ff00ff" stroke-width="0.7"/>
<path d="M318.1 231.13h2.2M319.2 230.03v2.2" stroke="#ff00ff" stroke-width="0.7"/>
<path d="M325.2 244.43h2.2M326.3 243.33v2.2" stroke="#ff00ff" stroke-width="0.7"/>
<path d="M332.3 256.84h2.2M333.4 255.74v2.2" stroke="#ff00ff" stroke-width="0.7"/>
<path d="M339.4 266.11h2.2M340.5 265.01v2.2" stroke="#ff00ff" stroke-width="0.7"/>
<path d="M346.5 274.21h2.2M347.6 273.11v2.2" stroke="#ff00ff" stroke-width="0.7"/>
<path d="M353.6 279.26h2.2M354.7 278.16v2.2" stroke="#ff00ff" stroke-width="0.7"/>
<path d="M360.7 280.9h2.2M361.8 279.8v2.2" stroke="#ff00ff" stroke-width="0.7"/>
<path d="M367.8 282.9h2.2M368.9 281.8v2.2" stroke="#ff00ff" stroke-width="0.7"/>
<path d="M374.9 285.01h2.2M376 283.91v2.2" stroke="#ff00ff" stroke-width="0.7"/>
<path d="M382 286.43h2.2M383.1 285.33v2.2" stroke="#ff00ff" stroke-width="0.7"/>
<path d="M389.1 287.18h2.2M390.2 286.08v2.2" stroke="#ff00ff" stroke-width="0.7"/>
<path d="M396.2 287.69h2.2M397.3 286.59v2.2" stroke="#ff00ff" stroke-width="0.7"/>
<path d="M403.3 288.11h2.2M404.4 287.01v2.2" stroke="#ff00ff" stroke-width="0.7"/>
<path d="M410.4 288.47h2.2M411.5 287.37v2.2" stroke="#ff00ff" stroke-width="0.7"/>
<path d="M417.5 288.77h2.2M418.6 287.67v2.2" stroke="#ff00ff" stroke-width="0.7"/>
<path d="M424.6 288.98h2.2M425.7 287.88v2.2" stroke="#ff00ff" stroke-width="0.7"/>
<path d="M431.7 289.12h2.2M432.8 288.02v2.2" stroke="#ff00ff" stroke-width="0.7"/>
<path d="M438.8 289.21h2.2M439.9 288.11v2.2" stroke="#ff00ff" stroke-width="0.7"/>
<polyline points="269.5,191 277.3,215.2 284.3,251.8 287,265 291.4,282.2 297.5,291 305.4,296.3 319.5,299.8 326.5,302.8 333.5,306 348.2,309.1 447,309.6" fill="none" stroke="#00ff00" stroke-width="0.65" stroke-linejoin="round"/>
<path d="M269.5 189.1l1.5 1.9l-1.5 1.9l-1.5 -1.9z" fill="#40e040" stroke="#00ff00" stroke-width="0.6"/>
<path d="M276.6 211.13l1.5 1.9l-1.5 1.9l-1.5 -1.9z" fill="#40e040" stroke="#00ff00" stroke-width="0.6"/>
<path d="M283.7 246.76l1.5 1.9l-1.5 1.9l-1.5 -1.9z" fill="#40e040" stroke="#00ff00" stroke-width="0.6"/>
<path d="M290.8 277.95l1.5 1.9l-1.5 1.9l-1.5 -1.9z" fill="#40e040" stroke="#00ff00" stroke-width="0.6"/>
<path d="M297.9 289.37l1.5 1.9l-1.5 1.9l-1.5 -1.9z" fill="#40e040" stroke="#00ff00" stroke-width="0.6"/>
<path d="M305 294.13l1.5 1.9l-1.5 1.9l-1.5 -1.9z" fill="#40e040" stroke="#00ff00" stroke-width="0.6"/>
<path d="M312.1 296.06l1.5 1.9l-1.5 1.9l-1.5 -1.9z" fill="#40e040" stroke="#00ff00" stroke-width="0.6"/>
<path d="M319.2 297.83l1.5 1.9l-1.5 1.9l-1.5 -1.9z" fill="#40e040" stroke="#00ff00" stroke-width="0.6"/>
<path d="M326.3 300.81l1.5 1.9l-1.5 1.9l-1.5 -1.9z" fill="#40e040" stroke="#00ff00" stroke-width="0.6"/>
<path d="M333.4 304.05l1.5 1.9l-1.5 1.9l-1.5 -1.9z" fill="#40e040" stroke="#00ff00" stroke-width="0.6"/>
<path d="M340.5 305.58l1.5 1.9l-1.5 1.9l-1.5 -1.9z" fill="#40e040" stroke="#00ff00" stroke-width="0.6"/>
<path d="M347.6 307.07l1.5 1.9l-1.5 1.9l-1.5 -1.9z" fill="#40e040" stroke="#00ff00" stroke-width="0.6"/>
<path d="M354.7 307.23l1.5 1.9l-1.5 1.9l-1.5 -1.9z" fill="#40e040" stroke="#00ff00" stroke-width="0.6"/>
<path d="M361.8 307.27l1.5 1.9l-1.5 1.9l-1.5 -1.9z" fill="#40e040" stroke="#00ff00" stroke-width="0.6"/>
<path d="M368.9 307.3l1.5 1.9l-1.5 1.9l-1.5 -1.9z" fill="#40e040" stroke="#00ff00" stroke-width="0.6"/>
<path d="M376 307.34l1.5 1.9l-1.5 1.9l-1.5 -1.9z" fill="#40e040" stroke="#00ff00" stroke-width="0.6"/>
<path d="M383.1 307.38l1.5 1.9l-1.5 1.9l-1.5 -1.9z" fill="#40e040" stroke="#00ff00" stroke-width="0.6"/>
<path d="M390.2 307.41l1.5 1.9l-1.5 1.9l-1.5 -1.9z" fill="#40e040" stroke="#00ff00" stroke-width="0.6"/>
<path d="M397.3 307.45l1.5 1.9l-1.5 1.9l-1.5 -1.9z" fill="#40e040" stroke="#00ff00" stroke-width="0.6"/>
<path d="M404.4 307.48l1.5 1.9l-1.5 1.9l-1.5 -1.9z" fill="#40e040" stroke="#00ff00" stroke-width="0.6"/>
<path d="M411.5 307.52l1.5 1.9l-1.5 1.9l-1.5 -1.9z" fill="#40e040" stroke="#00ff00" stroke-width="0.6"/>
<path d="M418.6 307.56l1.5 1.9l-1.5 1.9l-1.5 -1.9z" fill="#40e040" stroke="#00ff00" stroke-width="0.6"/>
<path d="M425.7 307.59l1.5 1.9l-1.5 1.9l-1.5 -1.9z" fill="#40e040" stroke="#00ff00" stroke-width="0.6"/>
<path d="M432.8 307.63l1.5 1.9l-1.5 1.9l-1.5 -1.9z" fill="#40e040" stroke="#00ff00" stroke-width="0.6"/>
<path d="M439.9 307.66l1.5 1.9l-1.5 1.9l-1.5 -1.9z" fill="#40e040" stroke="#00ff00" stroke-width="0.6"/>
<polyline points="269.5,191 272,230.7 277.7,238.6 278.5,255 280,272 282.6,282.2 289.6,288.4 308.9,292.8 316,297.2 335,297.5 447,299.9" fill="none" stroke="#00ffff" stroke-width="0.65" stroke-linejoin="round"/>
<circle cx="269.5" cy="191" r="1.55" fill="#b0ffff" stroke="#00ffff" stroke-width="0.8"/>
<circle cx="276.6" cy="237.08" r="1.55" fill="#b0ffff" stroke="#00ffff" stroke-width="0.8"/>
<circle cx="283.7" cy="283.17" r="1.55" fill="#b0ffff" stroke="#00ffff" stroke-width="0.8"/>
<circle cx="290.8" cy="288.67" r="1.55" fill="#b0ffff" stroke="#00ffff" stroke-width="0.8"/>
<circle cx="297.9" cy="290.29" r="1.55" fill="#b0ffff" stroke="#00ffff" stroke-width="0.8"/>
<circle cx="305" cy="291.91" r="1.55" fill="#b0ffff" stroke="#00ffff" stroke-width="0.8"/>
<circle cx="312.1" cy="294.78" r="1.55" fill="#b0ffff" stroke="#00ffff" stroke-width="0.8"/>
<circle cx="319.2" cy="297.25" r="1.55" fill="#b0ffff" stroke="#00ffff" stroke-width="0.8"/>
<circle cx="326.3" cy="297.36" r="1.55" fill="#b0ffff" stroke="#00ffff" stroke-width="0.8"/>
<circle cx="333.4" cy="297.47" r="1.55" fill="#b0ffff" stroke="#00ffff" stroke-width="0.8"/>
<circle cx="340.5" cy="297.62" r="1.55" fill="#b0ffff" stroke="#00ffff" stroke-width="0.8"/>
<circle cx="347.6" cy="297.77" r="1.55" fill="#b0ffff" stroke="#00ffff" stroke-width="0.8"/>
<circle cx="354.7" cy="297.92" r="1.55" fill="#b0ffff" stroke="#00ffff" stroke-width="0.8"/>
<circle cx="361.8" cy="298.07" r="1.55" fill="#b0ffff" stroke="#00ffff" stroke-width="0.8"/>
<circle cx="368.9" cy="298.23" r="1.55" fill="#b0ffff" stroke="#00ffff" stroke-width="0.8"/>
<circle cx="376" cy="298.38" r="1.55" fill="#b0ffff" stroke="#00ffff" stroke-width="0.8"/>
<circle cx="383.1" cy="298.53" r="1.55" fill="#b0ffff" stroke="#00ffff" stroke-width="0.8"/>
<circle cx="390.2" cy="298.68" r="1.55" fill="#b0ffff" stroke="#00ffff" stroke-width="0.8"/>
<circle cx="397.3" cy="298.83" r="1.55" fill="#b0ffff" stroke="#00ffff" stroke-width="0.8"/>
<circle cx="404.4" cy="298.99" r="1.55" fill="#b0ffff" stroke="#00ffff" stroke-width="0.8"/>
<circle cx="411.5" cy="299.14" r="1.55" fill="#b0ffff" stroke="#00ffff" stroke-width="0.8"/>
<circle cx="418.6" cy="299.29" r="1.55" fill="#b0ffff" stroke="#00ffff" stroke-width="0.8"/>
<circle cx="425.7" cy="299.44" r="1.55" fill="#b0ffff" stroke="#00ffff" stroke-width="0.8"/>
<circle cx="432.8" cy="299.6" r="1.55" fill="#b0ffff" stroke="#00ffff" stroke-width="0.8"/>
<circle cx="439.9" cy="299.75" r="1.55" fill="#b0ffff" stroke="#00ffff" stroke-width="0.8"/>
<polyline points="269.5,191 277,242.1 283.5,265 284.3,267.3 291.4,284.9 298.4,288.4 312.5,292.8 319.5,296.7 361.4,300.4 435.3,302.5 447,305.1" fill="none" stroke="#ff0000" stroke-width="0.65" stroke-linejoin="round"/>
<circle cx="269.5" cy="191" r="1.1" fill="#e00000"/>
<circle cx="276.6" cy="239.37" r="1.1" fill="#e00000"/>
<circle cx="283.7" cy="265.57" r="1.1" fill="#e00000"/>
<circle cx="290.8" cy="283.41" r="1.1" fill="#e00000"/>
<circle cx="297.9" cy="288.15" r="1.1" fill="#e00000"/>
<circle cx="305" cy="290.46" r="1.1" fill="#e00000"/>
<circle cx="312.1" cy="292.68" r="1.1" fill="#e00000"/>
<circle cx="319.2" cy="296.53" r="1.1" fill="#e00000"/>
<circle cx="326.3" cy="297.3" r="1.1" fill="#e00000"/>
<circle cx="333.4" cy="297.93" r="1.1" fill="#e00000"/>
<circle cx="340.5" cy="298.55" r="1.1" fill="#e00000"/>
<circle cx="347.6" cy="299.18" r="1.1" fill="#e00000"/>
<circle cx="354.7" cy="299.81" r="1.1" fill="#e00000"/>
<circle cx="361.8" cy="300.41" r="1.1" fill="#e00000"/>
<circle cx="368.9" cy="300.61" r="1.1" fill="#e00000"/>
<circle cx="376" cy="300.81" r="1.1" fill="#e00000"/>
<circle cx="383.1" cy="301.02" r="1.1" fill="#e00000"/>
<circle cx="390.2" cy="301.22" r="1.1" fill="#e00000"/>
<circle cx="397.3" cy="301.42" r="1.1" fill="#e00000"/>
<circle cx="404.4" cy="301.62" r="1.1" fill="#e00000"/>
<circle cx="411.5" cy="301.82" r="1.1" fill="#e00000"/>
<circle cx="418.6" cy="302.03" r="1.1" fill="#e00000"/>
<circle cx="425.7" cy="302.23" r="1.1" fill="#e00000"/>
<circle cx="432.8" cy="302.43" r="1.1" fill="#e00000"/>
<circle cx="439.9" cy="303.52" r="1.1" fill="#e00000"/>
<polyline points="269.5,191 272,229 276.4,265 278.2,283.1 282.6,291.9 291.4,297.2 296.6,300.7 305.4,304.2 305.4,313.9 345,315.6 391.7,316 391.7,319.1 447,319.1" fill="none" stroke="#ff3333" stroke-width="0.75" stroke-dasharray="2.6 0.7" stroke-linejoin="round"/>
<polyline points="269.6,294.6 271.3,304.4 276.2,311 284.3,311.5 291.4,313.7 298,313.7 305.4,314.8 345,316.5 377.2,317 377.2,321 402.3,321 402.3,324.1 447,324.5" fill="none" stroke="#ffff00" stroke-width="0.65" stroke-linejoin="round"/>
<circle cx="276.6" cy="311.02" r="0.9" fill="#e8e800"/>
<circle cx="283.7" cy="311.46" r="0.9" fill="#e8e800"/>
<circle cx="290.8" cy="313.51" r="0.9" fill="#e8e800"/>
<circle cx="297.9" cy="313.7" r="0.9" fill="#e8e800"/>
<circle cx="305" cy="314.74" r="0.9" fill="#e8e800"/>
<circle cx="312.1" cy="315.09" r="0.9" fill="#e8e800"/>
<circle cx="319.2" cy="315.39" r="0.9" fill="#e8e800"/>
<circle cx="326.3" cy="315.7" r="0.9" fill="#e8e800"/>
<circle cx="333.4" cy="316" r="0.9" fill="#e8e800"/>
<circle cx="340.5" cy="316.31" r="0.9" fill="#e8e800"/>
<circle cx="347.6" cy="316.54" r="0.9" fill="#e8e800"/>
<circle cx="354.7" cy="316.65" r="0.9" fill="#e8e800"/>
<circle cx="361.8" cy="316.76" r="0.9" fill="#e8e800"/>
<circle cx="368.9" cy="316.87" r="0.9" fill="#e8e800"/>
<circle cx="376" cy="316.98" r="0.9" fill="#e8e800"/>
<circle cx="383.1" cy="321" r="0.9" fill="#e8e800"/>
<circle cx="390.2" cy="321" r="0.9" fill="#e8e800"/>
<circle cx="397.3" cy="321" r="0.9" fill="#e8e800"/>
<circle cx="404.4" cy="324.12" r="0.9" fill="#e8e800"/>
<circle cx="411.5" cy="324.18" r="0.9" fill="#e8e800"/>
<circle cx="418.6" cy="324.25" r="0.9" fill="#e8e800"/>
<circle cx="425.7" cy="324.31" r="0.9" fill="#e8e800"/>
<circle cx="432.8" cy="324.37" r="0.9" fill="#e8e800"/>
<circle cx="439.9" cy="324.44" r="0.9" fill="#e8e800"/>
<polyline points="269.6,285.9 271.3,304.4 276.2,311 284.3,311.5 291.4,313.7 297.6,313.7 297.6,330 447,330" fill="none" stroke="#000000" stroke-width="0.65" stroke-linejoin="round"/>
<path d="M276.6 309.12l1.6 2.8h-3.2z" fill="#333" stroke="#000" stroke-width="0.5"/>
<path d="M283.7 309.56l1.6 2.8h-3.2z" fill="#333" stroke="#000" stroke-width="0.5"/>
<path d="M290.8 311.61l1.6 2.8h-3.2z" fill="#333" stroke="#000" stroke-width="0.5"/>
<path d="M297.9 328.1l1.6 2.8h-3.2z" fill="#333" stroke="#000" stroke-width="0.5"/>
<path d="M305 328.1l1.6 2.8h-3.2z" fill="#333" stroke="#000" stroke-width="0.5"/>
<path d="M312.1 328.1l1.6 2.8h-3.2z" fill="#333" stroke="#000" stroke-width="0.5"/>
<path d="M319.2 328.1l1.6 2.8h-3.2z" fill="#333" stroke="#000" stroke-width="0.5"/>
<path d="M326.3 328.1l1.6 2.8h-3.2z" fill="#333" stroke="#000" stroke-width="0.5"/>
<path d="M333.4 328.1l1.6 2.8h-3.2z" fill="#333" stroke="#000" stroke-width="0.5"/>
<path d="M340.5 328.1l1.6 2.8h-3.2z" fill="#333" stroke="#000" stroke-width="0.5"/>
<path d="M347.6 328.1l1.6 2.8h-3.2z" fill="#333" stroke="#000" stroke-width="0.5"/>
<path d="M354.7 328.1l1.6 2.8h-3.2z" fill="#333" stroke="#000" stroke-width="0.5"/>
<path d="M361.8 328.1l1.6 2.8h-3.2z" fill="#333" stroke="#000" stroke-width="0.5"/>
<path d="M368.9 328.1l1.6 2.8h-3.2z" fill="#333" stroke="#000" stroke-width="0.5"/>
<path d="M376 328.1l1.6 2.8h-3.2z" fill="#333" stroke="#000" stroke-width="0.5"/>
<path d="M383.1 328.1l1.6 2.8h-3.2z" fill="#333" stroke="#000" stroke-width="0.5"/>
<path d="M390.2 328.1l1.6 2.8h-3.2z" fill="#333" stroke="#000" stroke-width="0.5"/>
<path d="M397.3 328.1l1.6 2.8h-3.2z" fill="#333" stroke="#000" stroke-width="0.5"/>
<path d="M404.4 328.1l1.6 2.8h-3.2z" fill="#333" stroke="#000" stroke-width="0.5"/>
<path d="M411.5 328.1l1.6 2.8h-3.2z" fill="#333" stroke="#000" stroke-width="0.5"/>
<path d="M418.6 328.1l1.6 2.8h-3.2z" fill="#333" stroke="#000" stroke-width="0.5"/>
<path d="M425.7 328.1l1.6 2.8h-3.2z" fill="#333" stroke="#000" stroke-width="0.5"/>
<path d="M432.8 328.1l1.6 2.8h-3.2z" fill="#333" stroke="#000" stroke-width="0.5"/>
<path d="M439.9 328.1l1.6 2.8h-3.2z" fill="#333" stroke="#000" stroke-width="0.5"/>
<path d="M269.6 284l1.6 2.8h-3.2z" fill="#333" stroke="#000" stroke-width="0.5"/>
</g>
<rect x="362.3" y="196.9" width="45.5" height="55.5" fill="#fff" stroke="#9a9a9a" stroke-width="0.7"/>
<line x1="364.1" y1="201.4" x2="380.3" y2="201.4" stroke="#ff0000" stroke-width="0.65"/>
<circle cx="372.2" cy="201.4" r="1.1" fill="#e00000"/>
<text x="381.9" y="203.2" font-family='"Liberation Sans", sans-serif' font-size="4.85" fill="#333333">BOA</text>
<line x1="364.1" y1="208.08" x2="380.3" y2="208.08" stroke="#ff3333" stroke-width="0.7" stroke-dasharray="1.6 1"/>
<text x="381.9" y="209.88" font-family='"Liberation Sans", sans-serif' font-size="4.85" fill="#333333">HPSOBOA</text>
<line x1="364.1" y1="214.76" x2="380.3" y2="214.76" stroke="#00ffff" stroke-width="0.65"/>
<circle cx="372.2" cy="214.76" r="1.55" fill="#b0ffff" stroke="#00ffff" stroke-width="0.8"/>
<text x="381.9" y="216.56" font-family='"Liberation Sans", sans-serif' font-size="4.85" fill="#333333">COOT</text>
<line x1="364.1" y1="221.44" x2="380.3" y2="221.44" stroke="#ff00ff" stroke-width="0.65"/>
<path d="M371.1 221.44h2.2M372.2 220.34v2.2" stroke="#ff00ff" stroke-width="0.7"/>
<text x="381.9" y="223.24" font-family='"Liberation Sans", sans-serif' font-size="4.85" fill="#333333">PSO</text>
<line x1="364.1" y1="228.12" x2="380.3" y2="228.12" stroke="#00ff00" stroke-width="0.65"/>
<path d="M372.2 226.22l1.5 1.9l-1.5 1.9l-1.5 -1.9z" fill="#40e040" stroke="#00ff00" stroke-width="0.6"/>
<text x="381.9" y="229.92" font-family='"Liberation Sans", sans-serif' font-size="4.85" fill="#333333">GWO</text>
<line x1="364.1" y1="234.8" x2="380.3" y2="234.8" stroke="#0000ff" stroke-width="0.65"/>
<ellipse cx="372.2" cy="234.8" rx="1.7" ry="1.45" fill="#5050ff" stroke="#0000ff" stroke-width="0.7"/>
<text x="381.9" y="236.6" font-family='"Liberation Sans", sans-serif' font-size="4.85" fill="#333333">SCA</text>
<line x1="364.1" y1="241.48" x2="380.3" y2="241.48" stroke="#ffff00" stroke-width="0.65"/>
<circle cx="372.2" cy="241.48" r="0.9" fill="#e8e800"/>
<text x="381.9" y="243.28" font-family='"Liberation Sans", sans-serif' font-size="4.85" fill="#333333">BES</text>
<line x1="364.1" y1="248.16" x2="380.3" y2="248.16" stroke="#000000" stroke-width="0.65"/>
<path d="M372.2 246.26l1.6 2.8h-3.2z" fill="#333" stroke="#000" stroke-width="0.5"/>
<text x="381.9" y="249.96" font-family='"Liberation Sans", sans-serif' font-size="4.85" fill="#333333">HBES</text>
<g font-family='"Liberation Sans", sans-serif' font-size="5.6" fill="#333333"><text x="30.5" y="523.5" text-anchor="middle">0</text><text x="65.9" y="523.5" text-anchor="middle">100</text><text x="101.3" y="523.5" text-anchor="middle">200</text><text x="136.7" y="523.5" text-anchor="middle">300</text><text x="172.1" y="523.5" text-anchor="middle">400</text><text x="207.5" y="523.5" text-anchor="middle">500</text><text x="28.5" y="377.8" text-anchor="end">0</text><text x="28.5" y="397.76" text-anchor="end">-2000</text><text x="28.5" y="417.71" text-anchor="end">-4000</text><text x="28.5" y="437.67" text-anchor="end">-6000</text><text x="28.5" y="457.63" text-anchor="end">-8000</text><text x="28.5" y="477.59" text-anchor="end">-10000</text><text x="28.5" y="497.54" text-anchor="end">-12000</text><text x="28.5" y="517.5" text-anchor="end">-14000</text></g>
<text x="119" y="531.2" text-anchor="middle" font-family='"Liberation Sans", sans-serif' font-size="6.0" fill="#333333">Iteration</text>
<text transform="translate(9 445) rotate(-90)" text-anchor="middle" font-family='"Liberation Sans", sans-serif' font-size="6.0" fill="#333333">Best score obtained so far</text>
<text x="114.8" y="544.6" text-anchor="middle" font-family='"Liberation Serif", serif' font-size="10" font-weight="bold" fill="#111" class="sub">(e)</text>
<rect x="30.5" y="375.8" width="177" height="139.7" fill="none" stroke="#9a9a9a" stroke-width="0.7"/>
<path d="M30.5 515.5v-1.8 M30.5 375.8v1.8 M65.9 515.5v-1.8 M65.9 375.8v1.8 M101.3 515.5v-1.8 M101.3 375.8v1.8 M136.7 515.5v-1.8 M136.7 375.8v1.8 M172.1 515.5v-1.8 M172.1 375.8v1.8 M207.5 515.5v-1.8 M207.5 375.8v1.8 M30.5 375.8h1.8 M207.5 375.8h-1.8 M30.5 395.76h1.8 M207.5 395.76h-1.8 M30.5 415.71h1.8 M207.5 415.71h-1.8 M30.5 435.67h1.8 M207.5 435.67h-1.8 M30.5 455.63h1.8 M207.5 455.63h-1.8 M30.5 475.59h1.8 M207.5 475.59h-1.8 M30.5 495.54h1.8 M207.5 495.54h-1.8 M30.5 515.5h1.8 M207.5 515.5h-1.8" stroke="#9a9a9a" stroke-width="0.5" fill="none"/>
<clipPath id="ce"><rect x="28.5" y="373.8" width="181" height="143.7"/></clipPath>
<g clip-path="url(#ce)">
<polyline points="30.5,375.8 30.5,400 33.5,405.3 44.4,405.3 44.4,409.1 120.9,409.1 122.7,411.4 130.6,412 207.5,413" fill="none" stroke="#0000ff" stroke-width="0.65" stroke-linejoin="round"/>
<ellipse cx="30.5" cy="375.8" rx="1.7" ry="1.45" fill="#5050ff" stroke="#0000ff" stroke-width="0.7"/>
<ellipse cx="37.58" cy="405.3" rx="1.7" ry="1.45" fill="#5050ff" stroke="#0000ff" stroke-width="0.7"/>
<ellipse cx="44.66" cy="409.1" rx="1.7" ry="1.45" fill="#5050ff" stroke="#0000ff" stroke-width="0.7"/>
<ellipse cx="51.74" cy="409.1" rx="1.7" ry="1.45" fill="#5050ff" stroke="#0000ff" stroke-width="0.7"/>
<ellipse cx="58.82" cy="409.1" rx="1.7" ry="1.45" fill="#5050ff" stroke="#0000ff" stroke-width="0.7"/>
<ellipse cx="65.9" cy="409.1" rx="1.7" ry="1.45" fill="#5050ff" stroke="#0000ff" stroke-width="0.7"/>
<ellipse cx="72.98" cy="409.1" rx="1.7" ry="1.45" fill="#5050ff" stroke="#0000ff" stroke-width="0.7"/>
<ellipse cx="80.06" cy="409.1" rx="1.7" ry="1.45" fill="#5050ff" stroke="#0000ff" stroke-width="0.7"/>
<ellipse cx="87.14" cy="409.1" rx="1.7" ry="1.45" fill="#5050ff" stroke="#0000ff" stroke-width="0.7"/>
<ellipse cx="94.22" cy="409.1" rx="1.7" ry="1.45" fill="#5050ff" stroke="#0000ff" stroke-width="0.7"/>
<ellipse cx="101.3" cy="409.1" rx="1.7" ry="1.45" fill="#5050ff" stroke="#0000ff" stroke-width="0.7"/>
<ellipse cx="108.38" cy="409.1" rx="1.7" ry="1.45" fill="#5050ff" stroke="#0000ff" stroke-width="0.7"/>
<ellipse cx="115.46" cy="409.1" rx="1.7" ry="1.45" fill="#5050ff" stroke="#0000ff" stroke-width="0.7"/>
<ellipse cx="122.54" cy="411.2" rx="1.7" ry="1.45" fill="#5050ff" stroke="#0000ff" stroke-width="0.7"/>
<ellipse cx="129.62" cy="411.93" rx="1.7" ry="1.45" fill="#5050ff" stroke="#0000ff" stroke-width="0.7"/>
<ellipse cx="136.7" cy="412.08" rx="1.7" ry="1.45" fill="#5050ff" stroke="#0000ff" stroke-width="0.7"/>
<ellipse cx="143.78" cy="412.17" rx="1.7" ry="1.45" fill="#5050ff" stroke="#0000ff" stroke-width="0.7"/>
<ellipse cx="150.86" cy="412.26" rx="1.7" ry="1.45" fill="#5050ff" stroke="#0000ff" stroke-width="0.7"/>
<ellipse cx="157.94" cy="412.36" rx="1.7" ry="1.45" fill="#5050ff" stroke="#0000ff" stroke-width="0.7"/>
<ellipse cx="165.02" cy="412.45" rx="1.7" ry="1.45" fill="#5050ff" stroke="#0000ff" stroke-width="0.7"/>
<ellipse cx="172.1" cy="412.54" rx="1.7" ry="1.45" fill="#5050ff" stroke="#0000ff" stroke-width="0.7"/>
<ellipse cx="179.18" cy="412.63" rx="1.7" ry="1.45" fill="#5050ff" stroke="#0000ff" stroke-width="0.7"/>
<ellipse cx="186.26" cy="412.72" rx="1.7" ry="1.45" fill="#5050ff" stroke="#0000ff" stroke-width="0.7"/>
<ellipse cx="193.34" cy="412.82" rx="1.7" ry="1.45" fill="#5050ff" stroke="#0000ff" stroke-width="0.7"/>
<ellipse cx="200.42" cy="412.91" rx="1.7" ry="1.45" fill="#5050ff" stroke="#0000ff" stroke-width="0.7"/>
<polyline points="30.5,395.7 51.2,395.7 55.2,398.8 60,400.3 64,402.4 207.5,402.4" fill="none" stroke="#ff00ff" stroke-width="0.65" stroke-linejoin="round"/>
<path d="M29.4 395.7h2.2M30.5 394.6v2.2" stroke="#ff00ff" stroke-width="0.7"/>
<path d="M36.48 395.7h2.2M37.58 394.6v2.2" stroke="#ff00ff" stroke-width="0.7"/>
<path d="M43.56 395.7h2.2M44.66 394.6v2.2" stroke="#ff00ff" stroke-width="0.7"/>
<path d="M50.64 396.12h2.2M51.74 395.02v2.2" stroke="#ff00ff" stroke-width="0.7"/>
<path d="M57.72 399.93h2.2M58.82 398.83v2.2" stroke="#ff00ff" stroke-width="0.7"/>
<path d="M64.8 402.4h2.2M65.9 401.3v2.2" stroke="#ff00ff" stroke-width="0.7"/>
<path d="M71.88 402.4h2.2M72.98 401.3v2.2" stroke="#ff00ff" stroke-width="0.7"/>
<path d="M78.96 402.4h2.2M80.06 401.3v2.2" stroke="#ff00ff" stroke-width="0.7"/>
<path d="M86.04 402.4h2.2M87.14 401.3v2.2" stroke="#ff00ff" stroke-width="0.7"/>
<path d="M93.12 402.4h2.2M94.22 401.3v2.2" stroke="#ff00ff" stroke-width="0.7"/>
<path d="M100.2 402.4h2.2M101.3 401.3v2.2" stroke="#ff00ff" stroke-width="0.7"/>
<path d="M107.28 402.4h2.2M108.38 401.3v2.2" stroke="#ff00ff" stroke-width="0.7"/>
<path d="M114.36 402.4h2.2M115.46 401.3v2.2" stroke="#ff00ff" stroke-width="0.7"/>
<path d="M121.44 402.4h2.2M122.54 401.3v2.2" stroke="#ff00ff" stroke-width="0.7"/>
<path d="M128.52 402.4h2.2M129.62 401.3v2.2" stroke="#ff00ff" stroke-width="0.7"/>
<path d="M135.6 402.4h2.2M136.7 401.3v2.2" stroke="#ff00ff" stroke-width="0.7"/>
<path d="M142.68 402.4h2.2M143.78 401.3v2.2" stroke="#ff00ff" stroke-width="0.7"/>
<path d="M149.76 402.4h2.2M150.86 401.3v2.2" stroke="#ff00ff" stroke-width="0.7"/>
<path d="M156.84 402.4h2.2M157.94 401.3v2.2" stroke="#ff00ff" stroke-width="0.7"/>
<path d="M163.92 402.4h2.2M165.02 401.3v2.2" stroke="#ff00ff" stroke-width="0.7"/>
<path d="M171 402.4h2.2M172.1 401.3v2.2" stroke="#ff00ff" stroke-width="0.7"/>
<path d="M178.08 402.4h2.2M179.18 401.3v2.2" stroke="#ff00ff" stroke-width="0.7"/>
<path d="M185.16 402.4h2.2M186.26 401.3v2.2" stroke="#ff00ff" stroke-width="0.7"/>
<path d="M192.24 402.4h2.2M193.34 401.3v2.2" stroke="#ff00ff" stroke-width="0.7"/>
<path d="M199.32 402.4h2.2M200.42 401.3v2.2" stroke="#ff00ff" stroke-width="0.7"/>
<polyline points="30.5,403.1 76.1,403.1 79.6,405.5 97.2,405.5 100.7,407.2 121.8,407.2 126.6,410.5 141.1,413.8 145.9,416.3 158,418.2 207.5,419" fill="none" stroke="#00ff00" stroke-width="0.65" stroke-linejoin="round"/>
<path d="M30.5 401.2l1.5 1.9l-1.5 1.9l-1.5 -1.9z" fill="#40e040" stroke="#00ff00" stroke-width="0.6"/>
<path d="M37.58 401.2l1.5 1.9l-1.5 1.9l-1.5 -1.9z" fill="#40e040" stroke="#00ff00" stroke-width="0.6"/>
<path d="M44.66 401.2l1.5 1.9l-1.5 1.9l-1.5 -1.9z" fill="#40e040" stroke="#00ff00" stroke-width="0.6"/>
<path d="M51.74 401.2l1.5 1.9l-1.5 1.9l-1.5 -1.9z" fill="#40e040" stroke="#00ff00" stroke-width="0.6"/>
<path d="M58.82 401.2l1.5 1.9l-1.5 1.9l-1.5 -1.9z" fill="#40e040" stroke="#00ff00" stroke-width="0.6"/>
<path d="M65.9 401.2l1.5 1.9l-1.5 1.9l-1.5 -1.9z" fill="#40e040" stroke="#00ff00" stroke-width="0.6"/>
<path d="M72.98 401.2l1.5 1.9l-1.5 1.9l-1.5 -1.9z" fill="#40e040" stroke="#00ff00" stroke-width="0.6"/>
<path d="M80.06 403.6l1.5 1.9l-1.5 1.9l-1.5 -1.9z" fill="#40e040" stroke="#00ff00" stroke-width="0.6"/>
<path d="M87.14 403.6l1.5 1.9l-1.5 1.9l-1.5 -1.9z" fill="#40e040" stroke="#00ff00" stroke-width="0.6"/>
<path d="M94.22 403.6l1.5 1.9l-1.5 1.9l-1.5 -1.9z" fill="#40e040" stroke="#00ff00" stroke-width="0.6"/>
<path d="M101.3 405.3l1.5 1.9l-1.5 1.9l-1.5 -1.9z" fill="#40e040" stroke="#00ff00" stroke-width="0.6"/>
<path d="M108.38 405.3l1.5 1.9l-1.5 1.9l-1.5 -1.9z" fill="#40e040" stroke="#00ff00" stroke-width="0.6"/>
<path d="M115.46 405.3l1.5 1.9l-1.5 1.9l-1.5 -1.9z" fill="#40e040" stroke="#00ff00" stroke-width="0.6"/>
<path d="M122.54 405.81l1.5 1.9l-1.5 1.9l-1.5 -1.9z" fill="#40e040" stroke="#00ff00" stroke-width="0.6"/>
<path d="M129.62 409.29l1.5 1.9l-1.5 1.9l-1.5 -1.9z" fill="#40e040" stroke="#00ff00" stroke-width="0.6"/>
<path d="M136.7 410.9l1.5 1.9l-1.5 1.9l-1.5 -1.9z" fill="#40e040" stroke="#00ff00" stroke-width="0.6"/>
<path d="M143.78 413.3l1.5 1.9l-1.5 1.9l-1.5 -1.9z" fill="#40e040" stroke="#00ff00" stroke-width="0.6"/>
<path d="M150.86 415.18l1.5 1.9l-1.5 1.9l-1.5 -1.9z" fill="#40e040" stroke="#00ff00" stroke-width="0.6"/>
<path d="M157.94 416.29l1.5 1.9l-1.5 1.9l-1.5 -1.9z" fill="#40e040" stroke="#00ff00" stroke-width="0.6"/>
<path d="M165.02 416.41l1.5 1.9l-1.5 1.9l-1.5 -1.9z" fill="#40e040" stroke="#00ff00" stroke-width="0.6"/>
<path d="M172.1 416.53l1.5 1.9l-1.5 1.9l-1.5 -1.9z" fill="#40e040" stroke="#00ff00" stroke-width="0.6"/>
<path d="M179.18 416.64l1.5 1.9l-1.5 1.9l-1.5 -1.9z" fill="#40e040" stroke="#00ff00" stroke-width="0.6"/>
<path d="M186.26 416.76l1.5 1.9l-1.5 1.9l-1.5 -1.9z" fill="#40e040" stroke="#00ff00" stroke-width="0.6"/>
<path d="M193.34 416.87l1.5 1.9l-1.5 1.9l-1.5 -1.9z" fill="#40e040" stroke="#00ff00" stroke-width="0.6"/>
<path d="M200.42 416.99l1.5 1.9l-1.5 1.9l-1.5 -1.9z" fill="#40e040" stroke="#00ff00" stroke-width="0.6"/>
<polyline points="30.5,397.3 32.4,400 36,404 47.3,406.8 52,408.5 55,410.2 66.4,410.2 69,415.5 93.7,416.4 100.7,417.8 106,420.8 114.8,423.4 123.5,426 136.3,427.5 150.8,430.2 172.5,431.4 184.6,432.7 201.5,434.2 207.5,435" fill="none" stroke="#00ffff" stroke-width="0.65" stroke-linejoin="round"/>
<circle cx="30.5" cy="397.3" r="1.55" fill="#b0ffff" stroke="#00ffff" stroke-width="0.8"/>
<circle cx="37.58" cy="404.39" r="1.55" fill="#b0ffff" stroke="#00ffff" stroke-width="0.8"/>
<circle cx="44.66" cy="406.15" r="1.55" fill="#b0ffff" stroke="#00ffff" stroke-width="0.8"/>
<circle cx="51.74" cy="408.41" r="1.55" fill="#b0ffff" stroke="#00ffff" stroke-width="0.8"/>
<circle cx="58.82" cy="410.2" r="1.55" fill="#b0ffff" stroke="#00ffff" stroke-width="0.8"/>
<circle cx="65.9" cy="410.2" r="1.55" fill="#b0ffff" stroke="#00ffff" stroke-width="0.8"/>
<circle cx="72.98" cy="415.65" r="1.55" fill="#b0ffff" stroke="#00ffff" stroke-width="0.8"/>
<circle cx="80.06" cy="415.9" r="1.55" fill="#b0ffff" stroke="#00ffff" stroke-width="0.8"/>
<circle cx="87.14" cy="416.16" r="1.55" fill="#b0ffff" stroke="#00ffff" stroke-width="0.8"/>
<circle cx="94.22" cy="416.5" r="1.55" fill="#b0ffff" stroke="#00ffff" stroke-width="0.8"/>
<circle cx="101.3" cy="418.14" r="1.55" fill="#b0ffff" stroke="#00ffff" stroke-width="0.8"/>
<circle cx="108.38" cy="421.5" r="1.55" fill="#b0ffff" stroke="#00ffff" stroke-width="0.8"/>
<circle cx="115.46" cy="423.6" r="1.55" fill="#b0ffff" stroke="#00ffff" stroke-width="0.8"/>
<circle cx="122.54" cy="425.71" r="1.55" fill="#b0ffff" stroke="#00ffff" stroke-width="0.8"/>
<circle cx="129.62" cy="426.72" r="1.55" fill="#b0ffff" stroke="#00ffff" stroke-width="0.8"/>
<circle cx="136.7" cy="427.57" r="1.55" fill="#b0ffff" stroke="#00ffff" stroke-width="0.8"/>
<circle cx="143.78" cy="428.89" r="1.55" fill="#b0ffff" stroke="#00ffff" stroke-width="0.8"/>
<circle cx="150.86" cy="430.2" r="1.55" fill="#b0ffff" stroke="#00ffff" stroke-width="0.8"/>
<circle cx="157.94" cy="430.59" r="1.55" fill="#b0ffff" stroke="#00ffff" stroke-width="0.8"/>
<circle cx="165.02" cy="430.99" r="1.55" fill="#b0ffff" stroke="#00ffff" stroke-width="0.8"/>
<circle cx="172.1" cy="431.38" r="1.55" fill="#b0ffff" stroke="#00ffff" stroke-width="0.8"/>
<circle cx="179.18" cy="432.12" r="1.55" fill="#b0ffff" stroke="#00ffff" stroke-width="0.8"/>
<circle cx="186.26" cy="432.85" r="1.55" fill="#b0ffff" stroke="#00ffff" stroke-width="0.8"/>
<circle cx="193.34" cy="433.48" r="1.55" fill="#b0ffff" stroke="#00ffff" stroke-width="0.8"/>
<circle cx="200.42" cy="434.1" r="1.55" fill="#b0ffff" stroke="#00ffff" stroke-width="0.8"/>
<polyline points="30.5,404 34.9,408.9 34.9,412 37,412.6 207.5,413" fill="none" stroke="#ff0000" stroke-width="0.65" stroke-linejoin="round"/>
<circle cx="30.5" cy="404" r="1.1" fill="#e00000"/>
<circle cx="37.58" cy="412.6" r="1.1" fill="#e00000"/>
<circle cx="44.66" cy="412.62" r="1.1" fill="#e00000"/>
<circle cx="51.74" cy="412.63" r="1.1" fill="#e00000"/>
<circle cx="58.82" cy="412.65" r="1.1" fill="#e00000"/>
<circle cx="65.9" cy="412.67" r="1.1" fill="#e00000"/>
<circle cx="72.98" cy="412.68" r="1.1" fill="#e00000"/>
<circle cx="80.06" cy="412.7" r="1.1" fill="#e00000"/>
<circle cx="87.14" cy="412.72" r="1.1" fill="#e00000"/>
<circle cx="94.22" cy="412.73" r="1.1" fill="#e00000"/>
<circle cx="101.3" cy="412.75" r="1.1" fill="#e00000"/>
<circle cx="108.38" cy="412.77" r="1.1" fill="#e00000"/>
<circle cx="115.46" cy="412.78" r="1.1" fill="#e00000"/>
<circle cx="122.54" cy="412.8" r="1.1" fill="#e00000"/>
<circle cx="129.62" cy="412.82" r="1.1" fill="#e00000"/>
<circle cx="136.7" cy="412.83" r="1.1" fill="#e00000"/>
<circle cx="143.78" cy="412.85" r="1.1" fill="#e00000"/>
<circle cx="150.86" cy="412.87" r="1.1" fill="#e00000"/>
<circle cx="157.94" cy="412.88" r="1.1" fill="#e00000"/>
<circle cx="165.02" cy="412.9" r="1.1" fill="#e00000"/>
<circle cx="172.1" cy="412.92" r="1.1" fill="#e00000"/>
<circle cx="179.18" cy="412.93" r="1.1" fill="#e00000"/>
<circle cx="186.26" cy="412.95" r="1.1" fill="#e00000"/>
<circle cx="193.34" cy="412.97" r="1.1" fill="#e00000"/>
<circle cx="200.42" cy="412.98" r="1.1" fill="#e00000"/>
<polyline points="30.5,398 32.4,403.8 35.3,407.5 37.5,408.2 44.8,409.7 49.1,413.3 49.1,417.3 52,422.4 54.6,425.5 104.3,425.5 106,429.3 118.6,429.3 119.7,434.2 122.5,435.3 128,438.6 136.8,440.8 145,443 158,444.7 170.1,447.1 179.8,449.6 196.7,452 204,456.8 207.5,460.4" fill="none" stroke="#ffff00" stroke-width="0.65" stroke-linejoin="round"/>
<circle cx="30.5" cy="398" r="0.9" fill="#e8e800"/>
<circle cx="37.58" cy="408.22" r="0.9" fill="#e8e800"/>
<circle cx="44.66" cy="409.67" r="0.9" fill="#e8e800"/>
<circle cx="51.74" cy="421.94" r="0.9" fill="#e8e800"/>
<circle cx="58.82" cy="425.5" r="0.9" fill="#e8e800"/>
<circle cx="65.9" cy="425.5" r="0.9" fill="#e8e800"/>
<circle cx="72.98" cy="425.5" r="0.9" fill="#e8e800"/>
<circle cx="80.06" cy="425.5" r="0.9" fill="#e8e800"/>
<circle cx="87.14" cy="425.5" r="0.9" fill="#e8e800"/>
<circle cx="94.22" cy="425.5" r="0.9" fill="#e8e800"/>
<circle cx="101.3" cy="425.5" r="0.9" fill="#e8e800"/>
<circle cx="108.38" cy="429.3" r="0.9" fill="#e8e800"/>
<circle cx="115.46" cy="429.3" r="0.9" fill="#e8e800"/>
<circle cx="122.54" cy="435.32" r="0.9" fill="#e8e800"/>
<circle cx="129.62" cy="439" r="0.9" fill="#e8e800"/>
<circle cx="136.7" cy="440.77" r="0.9" fill="#e8e800"/>
<circle cx="143.78" cy="442.67" r="0.9" fill="#e8e800"/>
<circle cx="150.86" cy="443.77" r="0.9" fill="#e8e800"/>
<circle cx="157.94" cy="444.69" r="0.9" fill="#e8e800"/>
<circle cx="165.02" cy="446.09" r="0.9" fill="#e8e800"/>
<circle cx="172.1" cy="447.62" r="0.9" fill="#e8e800"/>
<circle cx="179.18" cy="449.44" r="0.9" fill="#e8e800"/>
<circle cx="186.26" cy="450.52" r="0.9" fill="#e8e800"/>
<circle cx="193.34" cy="451.52" r="0.9" fill="#e8e800"/>
<circle cx="200.42" cy="454.45" r="0.9" fill="#e8e800"/>
<polyline points="30.5,400 30.5,445.8 35.4,445.8 35.4,458.1 41.2,458.1 41.2,470.4 207.5,470.5" fill="none" stroke="#ff3333" stroke-width="0.75" stroke-dasharray="2.6 0.7" stroke-linejoin="round"/>
<polyline points="30.5,401 30.5,496.8 61.4,496.8 64.9,498.5 79,500 207.5,500.3" fill="none" stroke="#000000" stroke-width="0.65" stroke-linejoin="round"/>
<path d="M30.5 399.1l1.6 2.8h-3.2z" fill="#333" stroke="#000" stroke-width="0.5"/>
<path d="M37.58 494.9l1.6 2.8h-3.2z" fill="#333" stroke="#000" stroke-width="0.5"/>
<path d="M44.66 494.9l1.6 2.8h-3.2z" fill="#333" stroke="#000" stroke-width="0.5"/>
<path d="M51.74 494.9l1.6 2.8h-3.2z" fill="#333" stroke="#000" stroke-width="0.5"/>
<path d="M58.82 494.9l1.6 2.8h-3.2z" fill="#333" stroke="#000" stroke-width="0.5"/>
<path d="M65.9 496.71l1.6 2.8h-3.2z" fill="#333" stroke="#000" stroke-width="0.5"/>
<path d="M72.98 497.46l1.6 2.8h-3.2z" fill="#333" stroke="#000" stroke-width="0.5"/>
<path d="M80.06 498.1l1.6 2.8h-3.2z" fill="#333" stroke="#000" stroke-width="0.5"/>
<path d="M87.14 498.12l1.6 2.8h-3.2z" fill="#333" stroke="#000" stroke-width="0.5"/>
<path d="M94.22 498.14l1.6 2.8h-3.2z" fill="#333" stroke="#000" stroke-width="0.5"/>
<path d="M101.3 498.15l1.6 2.8h-3.2z" fill="#333" stroke="#000" stroke-width="0.5"/>
<path d="M108.38 498.17l1.6 2.8h-3.2z" fill="#333" stroke="#000" stroke-width="0.5"/>
<path d="M115.46 498.19l1.6 2.8h-3.2z" fill="#333" stroke="#000" stroke-width="0.5"/>
<path d="M122.54 498.2l1.6 2.8h-3.2z" fill="#333" stroke="#000" stroke-width="0.5"/>
<path d="M129.62 498.22l1.6 2.8h-3.2z" fill="#333" stroke="#000" stroke-width="0.5"/>
<path d="M136.7 498.23l1.6 2.8h-3.2z" fill="#333" stroke="#000" stroke-width="0.5"/>
<path d="M143.78 498.25l1.6 2.8h-3.2z" fill="#333" stroke="#000" stroke-width="0.5"/>
<path d="M150.86 498.27l1.6 2.8h-3.2z" fill="#333" stroke="#000" stroke-width="0.5"/>
<path d="M157.94 498.28l1.6 2.8h-3.2z" fill="#333" stroke="#000" stroke-width="0.5"/>
<path d="M165.02 498.3l1.6 2.8h-3.2z" fill="#333" stroke="#000" stroke-width="0.5"/>
<path d="M172.1 498.32l1.6 2.8h-3.2z" fill="#333" stroke="#000" stroke-width="0.5"/>
<path d="M179.18 498.33l1.6 2.8h-3.2z" fill="#333" stroke="#000" stroke-width="0.5"/>
<path d="M186.26 498.35l1.6 2.8h-3.2z" fill="#333" stroke="#000" stroke-width="0.5"/>
<path d="M193.34 498.37l1.6 2.8h-3.2z" fill="#333" stroke="#000" stroke-width="0.5"/>
<path d="M200.42 498.38l1.6 2.8h-3.2z" fill="#333" stroke="#000" stroke-width="0.5"/>
</g>
<rect x="161.8" y="376.1" width="45.5" height="55.5" fill="#fff" stroke="#9a9a9a" stroke-width="0.7"/>
<line x1="163.6" y1="380.6" x2="179.8" y2="380.6" stroke="#ff0000" stroke-width="0.65"/>
<circle cx="171.7" cy="380.6" r="1.1" fill="#e00000"/>
<text x="181.4" y="382.4" font-family='"Liberation Sans", sans-serif' font-size="4.85" fill="#333333">BOA</text>
<line x1="163.6" y1="387.28" x2="179.8" y2="387.28" stroke="#ff3333" stroke-width="0.7" stroke-dasharray="1.6 1"/>
<text x="181.4" y="389.08" font-family='"Liberation Sans", sans-serif' font-size="4.85" fill="#333333">HPSOBOA</text>
<line x1="163.6" y1="393.96" x2="179.8" y2="393.96" stroke="#00ffff" stroke-width="0.65"/>
<circle cx="171.7" cy="393.96" r="1.55" fill="#b0ffff" stroke="#00ffff" stroke-width="0.8"/>
<text x="181.4" y="395.76" font-family='"Liberation Sans", sans-serif' font-size="4.85" fill="#333333">COOT</text>
<line x1="163.6" y1="400.64" x2="179.8" y2="400.64" stroke="#ff00ff" stroke-width="0.65"/>
<path d="M170.6 400.64h2.2M171.7 399.54v2.2" stroke="#ff00ff" stroke-width="0.7"/>
<text x="181.4" y="402.44" font-family='"Liberation Sans", sans-serif' font-size="4.85" fill="#333333">PSO</text>
<line x1="163.6" y1="407.32" x2="179.8" y2="407.32" stroke="#00ff00" stroke-width="0.65"/>
<path d="M171.7 405.42l1.5 1.9l-1.5 1.9l-1.5 -1.9z" fill="#40e040" stroke="#00ff00" stroke-width="0.6"/>
<text x="181.4" y="409.12" font-family='"Liberation Sans", sans-serif' font-size="4.85" fill="#333333">GWO</text>
<line x1="163.6" y1="414" x2="179.8" y2="414" stroke="#0000ff" stroke-width="0.65"/>
<ellipse cx="171.7" cy="414" rx="1.7" ry="1.45" fill="#5050ff" stroke="#0000ff" stroke-width="0.7"/>
<text x="181.4" y="415.8" font-family='"Liberation Sans", sans-serif' font-size="4.85" fill="#333333">SCA</text>
<line x1="163.6" y1="420.68" x2="179.8" y2="420.68" stroke="#ffff00" stroke-width="0.65"/>
<circle cx="171.7" cy="420.68" r="0.9" fill="#e8e800"/>
<text x="181.4" y="422.48" font-family='"Liberation Sans", sans-serif' font-size="4.85" fill="#333333">BES</text>
<line x1="163.6" y1="427.36" x2="179.8" y2="427.36" stroke="#000000" stroke-width="0.65"/>
<path d="M171.7 425.46l1.6 2.8h-3.2z" fill="#333" stroke="#000" stroke-width="0.5"/>
<text x="181.4" y="429.16" font-family='"Liberation Sans", sans-serif' font-size="4.85" fill="#333333">HBES</text>
<g font-family='"Liberation Sans", sans-serif' font-size="5.6" fill="#333333"><text x="269.8" y="523.6" text-anchor="middle">0</text><text x="305.2" y="523.6" text-anchor="middle">100</text><text x="340.6" y="523.6" text-anchor="middle">200</text><text x="376" y="523.6" text-anchor="middle">300</text><text x="411.4" y="523.6" text-anchor="middle">400</text><text x="446.8" y="523.6" text-anchor="middle">500</text><text x="267.8" y="379.4" text-anchor="end">10<tspan dy="-3.0" font-size="4.3">5</tspan></text><text x="267.8" y="414.25" text-anchor="end">10<tspan dy="-3.0" font-size="4.3">0</tspan></text><text x="267.8" y="449.1" text-anchor="end">10<tspan dy="-3.0" font-size="4.3">-5</tspan></text><text x="267.8" y="483.95" text-anchor="end">10<tspan dy="-3.0" font-size="4.3">-10</tspan></text><text x="267.8" y="518.8" text-anchor="end">10<tspan dy="-3.0" font-size="4.3">-15</tspan></text></g>
<text x="358.3" y="531.3" text-anchor="middle" font-family='"Liberation Sans", sans-serif' font-size="6.0" fill="#333333">Iteration</text>
<text transform="translate(252.6 445.2) rotate(-90)" text-anchor="middle" font-family='"Liberation Sans", sans-serif' font-size="6.0" fill="#333333">Best score obtained so far</text>
<text x="354.3" y="544.6" text-anchor="middle" font-family='"Liberation Serif", serif' font-size="10" font-weight="bold" fill="#111" class="sub">(f)</text>
<rect x="269.8" y="376.2" width="177" height="139.4" fill="none" stroke="#9a9a9a" stroke-width="0.7"/>
<path d="M269.8 515.6v-1.8 M269.8 376.2v1.8 M305.2 515.6v-1.8 M305.2 376.2v1.8 M340.6 515.6v-1.8 M340.6 376.2v1.8 M376 515.6v-1.8 M376 376.2v1.8 M411.4 515.6v-1.8 M411.4 376.2v1.8 M446.8 515.6v-1.8 M446.8 376.2v1.8 M269.8 376.2h1.8 M446.8 376.2h-1.8 M269.8 411.05h1.8 M446.8 411.05h-1.8 M269.8 445.9h1.8 M446.8 445.9h-1.8 M269.8 480.75h1.8 M446.8 480.75h-1.8 M269.8 515.6h1.8 M446.8 515.6h-1.8 M269.8 508.63h1 M446.8 508.63h-1 M269.8 501.66h1 M446.8 501.66h-1 M269.8 494.69h1 M446.8 494.69h-1 M269.8 487.72h1 M446.8 487.72h-1 M269.8 473.78h1 M446.8 473.78h-1 M269.8 466.81h1 M446.8 466.81h-1 M269.8 459.84h1 M446.8 459.84h-1 M269.8 452.87h1 M446.8 452.87h-1 M269.8 438.93h1 M446.8 438.93h-1 M269.8 431.96h1 M446.8 431.96h-1 M269.8 424.99h1 M446.8 424.99h-1 M269.8 418.02h1 M446.8 418.02h-1 M269.8 404.08h1 M446.8 404.08h-1 M269.8 397.11h1 M446.8 397.11h-1 M269.8 390.14h1 M446.8 390.14h-1 M269.8 383.17h1 M446.8 383.17h-1" stroke="#9a9a9a" stroke-width="0.5" fill="none"/>
<clipPath id="cf"><rect x="267.8" y="374.2" width="181" height="143.4"/></clipPath>
<g clip-path="url(#cf)">
<polyline points="269.8,401.8 446.8,401.7" fill="none" stroke="#0000ff" stroke-width="0.65" stroke-linejoin="round"/>
<ellipse cx="269.8" cy="401.8" rx="1.7" ry="1.45" fill="#5050ff" stroke="#0000ff" stroke-width="0.7"/>
<ellipse cx="276.88" cy="401.8" rx="1.7" ry="1.45" fill="#5050ff" stroke="#0000ff" stroke-width="0.7"/>
<ellipse cx="283.96" cy="401.79" rx="1.7" ry="1.45" fill="#5050ff" stroke="#0000ff" stroke-width="0.7"/>
<ellipse cx="291.04" cy="401.79" rx="1.7" ry="1.45" fill="#5050ff" stroke="#0000ff" stroke-width="0.7"/>
<ellipse cx="298.12" cy="401.78" rx="1.7" ry="1.45" fill="#5050ff" stroke="#0000ff" stroke-width="0.7"/>
<ellipse cx="305.2" cy="401.78" rx="1.7" ry="1.45" fill="#5050ff" stroke="#0000ff" stroke-width="0.7"/>
<ellipse cx="312.28" cy="401.78" rx="1.7" ry="1.45" fill="#5050ff" stroke="#0000ff" stroke-width="0.7"/>
<ellipse cx="319.36" cy="401.77" rx="1.7" ry="1.45" fill="#5050ff" stroke="#0000ff" stroke-width="0.7"/>
<ellipse cx="326.44" cy="401.77" rx="1.7" ry="1.45" fill="#5050ff" stroke="#0000ff" stroke-width="0.7"/>
<ellipse cx="333.52" cy="401.76" rx="1.7" ry="1.45" fill="#5050ff" stroke="#0000ff" stroke-width="0.7"/>
<ellipse cx="340.6" cy="401.76" rx="1.7" ry="1.45" fill="#5050ff" stroke="#0000ff" stroke-width="0.7"/>
<ellipse cx="347.68" cy="401.76" rx="1.7" ry="1.45" fill="#5050ff" stroke="#0000ff" stroke-width="0.7"/>
<ellipse cx="354.76" cy="401.75" rx="1.7" ry="1.45" fill="#5050ff" stroke="#0000ff" stroke-width="0.7"/>
<ellipse cx="361.84" cy="401.75" rx="1.7" ry="1.45" fill="#5050ff" stroke="#0000ff" stroke-width="0.7"/>
<ellipse cx="368.92" cy="401.74" rx="1.7" ry="1.45" fill="#5050ff" stroke="#0000ff" stroke-width="0.7"/>
<ellipse cx="376" cy="401.74" rx="1.7" ry="1.45" fill="#5050ff" stroke="#0000ff" stroke-width="0.7"/>
<ellipse cx="383.08" cy="401.74" rx="1.7" ry="1.45" fill="#5050ff" stroke="#0000ff" stroke-width="0.7"/>
<ellipse cx="390.16" cy="401.73" rx="1.7" ry="1.45" fill="#5050ff" stroke="#0000ff" stroke-width="0.7"/>
<ellipse cx="397.24" cy="401.73" rx="1.7" ry="1.45" fill="#5050ff" stroke="#0000ff" stroke-width="0.7"/>
<ellipse cx="404.32" cy="401.72" rx="1.7" ry="1.45" fill="#5050ff" stroke="#0000ff" stroke-width="0.7"/>
<ellipse cx="411.4" cy="401.72" rx="1.7" ry="1.45" fill="#5050ff" stroke="#0000ff" stroke-width="0.7"/>
<ellipse cx="418.48" cy="401.72" rx="1.7" ry="1.45" fill="#5050ff" stroke="#0000ff" stroke-width="0.7"/>
<ellipse cx="425.56" cy="401.71" rx="1.7" ry="1.45" fill="#5050ff" stroke="#0000ff" stroke-width="0.7"/>
<ellipse cx="432.64" cy="401.71" rx="1.7" ry="1.45" fill="#5050ff" stroke="#0000ff" stroke-width="0.7"/>
<ellipse cx="439.72" cy="401.7" rx="1.7" ry="1.45" fill="#5050ff" stroke="#0000ff" stroke-width="0.7"/>
<polyline points="269.8,401.8 270.72,402.04 271.87,402.37 273.22,402.75 274.78,403.18 276.51,403.63 278.4,404.08 280.43,404.51 282.6,404.9 284.98,405.27 287.64,405.63 290.49,406 293.48,406.36 296.54,406.7 299.59,407.03 302.56,407.33 305.4,407.6 308.14,407.83 310.86,408.03 313.55,408.19 316.22,408.34 318.85,408.48 321.45,408.63 324,408.8 326.5,409 328.95,409.22 331.36,409.46 333.72,409.7 336.04,409.96 338.33,410.22 340.58,410.5 342.81,410.79 345,411.1 347.12,411.42 349.14,411.76 351.1,412.11 353.04,412.47 355,412.84 357.02,413.22 359.14,413.61 361.4,414 363.61,414.35 365.66,414.65 367.68,414.92 369.82,415.22 372.23,415.58 375.05,416.03 378.42,416.63 382.5,417.4 387.66,418.42 393.92,419.67 400.9,421.09 408.21,422.6 415.46,424.12 422.27,425.57 428.24,426.89 433,428 436.58,428.93 439.35,429.76 441.47,430.5 443.06,431.16 444.25,431.74 445.18,432.23 445.99,432.65 446.8,433" fill="none" stroke="#ff00ff" stroke-width="0.65" stroke-linejoin="round"/>
<path d="M268.7 401.8h2.2M269.8 400.7v2.2" stroke="#ff00ff" stroke-width="0.7"/>
<path d="M275.78 403.72h2.2M276.88 402.62v2.2" stroke="#ff00ff" stroke-width="0.7"/>
<path d="M282.86 405.11h2.2M283.96 404.01v2.2" stroke="#ff00ff" stroke-width="0.7"/>
<path d="M289.94 406.06h2.2M291.04 404.96v2.2" stroke="#ff00ff" stroke-width="0.7"/>
<path d="M297.02 406.87h2.2M298.12 405.77v2.2" stroke="#ff00ff" stroke-width="0.7"/>
<path d="M304.1 407.58h2.2M305.2 406.48v2.2" stroke="#ff00ff" stroke-width="0.7"/>
<path d="M311.18 408.11h2.2M312.28 407.01v2.2" stroke="#ff00ff" stroke-width="0.7"/>
<path d="M318.26 408.51h2.2M319.36 407.41v2.2" stroke="#ff00ff" stroke-width="0.7"/>
<path d="M325.34 409h2.2M326.44 407.9v2.2" stroke="#ff00ff" stroke-width="0.7"/>
<path d="M332.42 409.68h2.2M333.52 408.58v2.2" stroke="#ff00ff" stroke-width="0.7"/>
<path d="M339.5 410.5h2.2M340.6 409.4v2.2" stroke="#ff00ff" stroke-width="0.7"/>
<path d="M346.58 411.51h2.2M347.68 410.41v2.2" stroke="#ff00ff" stroke-width="0.7"/>
<path d="M353.66 412.8h2.2M354.76 411.7v2.2" stroke="#ff00ff" stroke-width="0.7"/>
<path d="M360.74 414.07h2.2M361.84 412.97v2.2" stroke="#ff00ff" stroke-width="0.7"/>
<path d="M367.82 415.09h2.2M368.92 413.99v2.2" stroke="#ff00ff" stroke-width="0.7"/>
<path d="M374.9 416.2h2.2M376 415.1v2.2" stroke="#ff00ff" stroke-width="0.7"/>
<path d="M381.98 417.51h2.2M383.08 416.41v2.2" stroke="#ff00ff" stroke-width="0.7"/>
<path d="M389.06 418.92h2.2M390.16 417.82v2.2" stroke="#ff00ff" stroke-width="0.7"/>
<path d="M396.14 420.35h2.2M397.24 419.25v2.2" stroke="#ff00ff" stroke-width="0.7"/>
<path d="M403.22 421.8h2.2M404.32 420.7v2.2" stroke="#ff00ff" stroke-width="0.7"/>
<path d="M410.3 423.27h2.2M411.4 422.17v2.2" stroke="#ff00ff" stroke-width="0.7"/>
<path d="M417.38 424.77h2.2M418.48 423.67v2.2" stroke="#ff00ff" stroke-width="0.7"/>
<path d="M424.46 426.3h2.2M425.56 425.2v2.2" stroke="#ff00ff" stroke-width="0.7"/>
<path d="M431.54 427.92h2.2M432.64 426.82v2.2" stroke="#ff00ff" stroke-width="0.7"/>
<path d="M438.62 429.89h2.2M439.72 428.79v2.2" stroke="#ff00ff" stroke-width="0.7"/>
<polyline points="269.8,401.8 284.3,403.2 291.4,405.5 298.4,407.2 305.4,412 312.5,416.4 319.5,421.3 326.5,424.6 333.5,427.8 348.2,433.3 361.4,438.5 374.6,442.5 387.8,446.5 401,450.4 414.2,454.4 427.3,457.8 446.8,462.3" fill="none" stroke="#ff0000" stroke-width="0.65" stroke-linejoin="round"/>
<circle cx="269.8" cy="401.8" r="1.1" fill="#e00000"/>
<circle cx="276.88" cy="402.48" r="1.1" fill="#e00000"/>
<circle cx="283.96" cy="403.17" r="1.1" fill="#e00000"/>
<circle cx="291.04" cy="405.38" r="1.1" fill="#e00000"/>
<circle cx="298.12" cy="407.13" r="1.1" fill="#e00000"/>
<circle cx="305.2" cy="411.86" r="1.1" fill="#e00000"/>
<circle cx="312.28" cy="416.26" r="1.1" fill="#e00000"/>
<circle cx="319.36" cy="421.2" r="1.1" fill="#e00000"/>
<circle cx="326.44" cy="424.57" r="1.1" fill="#e00000"/>
<circle cx="333.52" cy="427.81" r="1.1" fill="#e00000"/>
<circle cx="340.6" cy="430.46" r="1.1" fill="#e00000"/>
<circle cx="347.68" cy="433.11" r="1.1" fill="#e00000"/>
<circle cx="354.76" cy="435.88" r="1.1" fill="#e00000"/>
<circle cx="361.84" cy="438.63" r="1.1" fill="#e00000"/>
<circle cx="368.92" cy="440.78" r="1.1" fill="#e00000"/>
<circle cx="376" cy="442.92" r="1.1" fill="#e00000"/>
<circle cx="383.08" cy="445.07" r="1.1" fill="#e00000"/>
<circle cx="390.16" cy="447.2" r="1.1" fill="#e00000"/>
<circle cx="397.24" cy="449.29" r="1.1" fill="#e00000"/>
<circle cx="404.32" cy="451.41" r="1.1" fill="#e00000"/>
<circle cx="411.4" cy="453.55" r="1.1" fill="#e00000"/>
<circle cx="418.48" cy="455.51" r="1.1" fill="#e00000"/>
<circle cx="425.56" cy="457.35" r="1.1" fill="#e00000"/>
<circle cx="432.64" cy="459.03" r="1.1" fill="#e00000"/>
<circle cx="439.72" cy="460.67" r="1.1" fill="#e00000"/>
<polyline points="269.8,401.8 279,407.6 283.5,412.8 291.4,412.8 297.5,419.9 305.4,427.8 312.5,427.8 319.5,431.3 319.5,441 333.5,441.8 341.6,445.2 348.2,445.8 356.1,450.6 366.7,453.2 369.3,461.1 374.6,471.7 381.2,484.9 426,484.9 432.6,488.3 446.8,490.1" fill="none" stroke="#00ffff" stroke-width="0.65" stroke-linejoin="round"/>
<circle cx="269.8" cy="401.8" r="1.55" fill="#b0ffff" stroke="#00ffff" stroke-width="0.8"/>
<circle cx="276.88" cy="406.26" r="1.55" fill="#b0ffff" stroke="#00ffff" stroke-width="0.8"/>
<circle cx="283.96" cy="412.8" r="1.55" fill="#b0ffff" stroke="#00ffff" stroke-width="0.8"/>
<circle cx="291.04" cy="412.8" r="1.55" fill="#b0ffff" stroke="#00ffff" stroke-width="0.8"/>
<circle cx="298.12" cy="420.52" r="1.55" fill="#b0ffff" stroke="#00ffff" stroke-width="0.8"/>
<circle cx="305.2" cy="427.6" r="1.55" fill="#b0ffff" stroke="#00ffff" stroke-width="0.8"/>
<circle cx="312.28" cy="427.8" r="1.55" fill="#b0ffff" stroke="#00ffff" stroke-width="0.8"/>
<circle cx="319.36" cy="431.23" r="1.55" fill="#b0ffff" stroke="#00ffff" stroke-width="0.8"/>
<circle cx="326.44" cy="441.4" r="1.55" fill="#b0ffff" stroke="#00ffff" stroke-width="0.8"/>
<circle cx="333.52" cy="441.81" r="1.55" fill="#b0ffff" stroke="#00ffff" stroke-width="0.8"/>
<circle cx="340.6" cy="444.78" r="1.55" fill="#b0ffff" stroke="#00ffff" stroke-width="0.8"/>
<circle cx="347.68" cy="445.75" r="1.55" fill="#b0ffff" stroke="#00ffff" stroke-width="0.8"/>
<circle cx="354.76" cy="449.79" r="1.55" fill="#b0ffff" stroke="#00ffff" stroke-width="0.8"/>
<circle cx="361.84" cy="452.01" r="1.55" fill="#b0ffff" stroke="#00ffff" stroke-width="0.8"/>
<circle cx="368.92" cy="459.95" r="1.55" fill="#b0ffff" stroke="#00ffff" stroke-width="0.8"/>
<circle cx="376" cy="474.5" r="1.55" fill="#b0ffff" stroke="#00ffff" stroke-width="0.8"/>
<circle cx="383.08" cy="484.9" r="1.55" fill="#b0ffff" stroke="#00ffff" stroke-width="0.8"/>
<circle cx="390.16" cy="484.9" r="1.55" fill="#b0ffff" stroke="#00ffff" stroke-width="0.8"/>
<circle cx="397.24" cy="484.9" r="1.55" fill="#b0ffff" stroke="#00ffff" stroke-width="0.8"/>
<circle cx="404.32" cy="484.9" r="1.55" fill="#b0ffff" stroke="#00ffff" stroke-width="0.8"/>
<circle cx="411.4" cy="484.9" r="1.55" fill="#b0ffff" stroke="#00ffff" stroke-width="0.8"/>
<circle cx="418.48" cy="484.9" r="1.55" fill="#b0ffff" stroke="#00ffff" stroke-width="0.8"/>
<circle cx="425.56" cy="484.9" r="1.55" fill="#b0ffff" stroke="#00ffff" stroke-width="0.8"/>
<circle cx="432.64" cy="488.31" r="1.55" fill="#b0ffff" stroke="#00ffff" stroke-width="0.8"/>
<circle cx="439.72" cy="489.2" r="1.55" fill="#b0ffff" stroke="#00ffff" stroke-width="0.8"/>
<polyline points="269.8,401.8 270.97,402.6 272.58,403.67 274.5,404.94 276.61,406.35 278.77,407.83 280.86,409.31 282.74,410.72 284.3,412 285.54,413.17 286.6,414.32 287.51,415.44 288.32,416.54 289.07,417.63 289.81,418.7 290.57,419.75 291.4,420.8 292.28,421.82 293.16,422.8 294.03,423.75 294.91,424.7 295.78,425.65 296.65,426.63 297.53,427.64 298.4,428.7 299.27,429.82 300.15,430.99 301.02,432.2 301.89,433.43 302.77,434.67 303.64,435.9 304.52,437.12 305.4,438.3 306.28,439.45 307.17,440.59 308.06,441.71 308.95,442.82 309.84,443.93 310.73,445.04 311.62,446.16 312.5,447.3 313.38,448.47 314.26,449.68 315.13,450.91 316.01,452.14 316.88,453.34 317.75,454.5 318.63,455.59 319.5,456.6 320.38,457.5 321.25,458.3 322.12,459.03 323,459.71 323.88,460.39 324.75,461.07 325.62,461.8 326.5,462.6 327.37,463.47 328.25,464.39 329.12,465.35 329.99,466.32 330.87,467.29 331.74,468.26 332.62,469.2 333.5,470.1 334.38,470.98 335.26,471.85 336.13,472.71 337.01,473.55 337.9,474.37 338.79,475.15 339.69,475.9 340.6,476.6 341.49,477.21 342.33,477.71 343.17,478.16 344.02,478.58 344.92,479.03 345.89,479.53 346.98,480.14 348.2,480.9 349.58,481.84 351.11,482.93 352.74,484.14 354.45,485.4 356.2,486.68 357.97,487.92 359.71,489.07 361.4,490.1 363.05,491 364.7,491.84 366.35,492.61 368,493.33 369.65,494.02 371.3,494.69 372.95,495.34 374.6,496 376.19,496.67 377.69,497.36 379.15,498.03 380.64,498.69 382.19,499.3 383.87,499.85 385.72,500.32 387.8,500.7 390.04,500.97 392.38,501.13 394.82,501.22 397.43,501.24 400.21,501.23 403.21,501.21 406.46,501.19 410,501.2 414.15,501.22 419.04,501.24 424.35,501.24 429.79,501.23 435.05,501.22 439.85,501.21 443.86,501.2 446.8,501.2" fill="none" stroke="#00ff00" stroke-width="0.65" stroke-linejoin="round"/>
<path d="M269.8 399.9l1.5 1.9l-1.5 1.9l-1.5 -1.9z" fill="#40e040" stroke="#00ff00" stroke-width="0.6"/>
<path d="M276.88 404.64l1.5 1.9l-1.5 1.9l-1.5 -1.9z" fill="#40e040" stroke="#00ff00" stroke-width="0.6"/>
<path d="M283.96 409.82l1.5 1.9l-1.5 1.9l-1.5 -1.9z" fill="#40e040" stroke="#00ff00" stroke-width="0.6"/>
<path d="M291.04 418.45l1.5 1.9l-1.5 1.9l-1.5 -1.9z" fill="#40e040" stroke="#00ff00" stroke-width="0.6"/>
<path d="M298.12 426.46l1.5 1.9l-1.5 1.9l-1.5 -1.9z" fill="#40e040" stroke="#00ff00" stroke-width="0.6"/>
<path d="M305.2 436.13l1.5 1.9l-1.5 1.9l-1.5 -1.9z" fill="#40e040" stroke="#00ff00" stroke-width="0.6"/>
<path d="M312.28 445.12l1.5 1.9l-1.5 1.9l-1.5 -1.9z" fill="#40e040" stroke="#00ff00" stroke-width="0.6"/>
<path d="M319.36 454.54l1.5 1.9l-1.5 1.9l-1.5 -1.9z" fill="#40e040" stroke="#00ff00" stroke-width="0.6"/>
<path d="M326.44 460.65l1.5 1.9l-1.5 1.9l-1.5 -1.9z" fill="#40e040" stroke="#00ff00" stroke-width="0.6"/>
<path d="M333.52 468.22l1.5 1.9l-1.5 1.9l-1.5 -1.9z" fill="#40e040" stroke="#00ff00" stroke-width="0.6"/>
<path d="M340.6 474.7l1.5 1.9l-1.5 1.9l-1.5 -1.9z" fill="#40e040" stroke="#00ff00" stroke-width="0.6"/>
<path d="M347.68 478.68l1.5 1.9l-1.5 1.9l-1.5 -1.9z" fill="#40e040" stroke="#00ff00" stroke-width="0.6"/>
<path d="M354.76 483.73l1.5 1.9l-1.5 1.9l-1.5 -1.9z" fill="#40e040" stroke="#00ff00" stroke-width="0.6"/>
<path d="M361.84 488.44l1.5 1.9l-1.5 1.9l-1.5 -1.9z" fill="#40e040" stroke="#00ff00" stroke-width="0.6"/>
<path d="M368.92 491.82l1.5 1.9l-1.5 1.9l-1.5 -1.9z" fill="#40e040" stroke="#00ff00" stroke-width="0.6"/>
<path d="M376 494.69l1.5 1.9l-1.5 1.9l-1.5 -1.9z" fill="#40e040" stroke="#00ff00" stroke-width="0.6"/>
<path d="M383.08 497.69l1.5 1.9l-1.5 1.9l-1.5 -1.9z" fill="#40e040" stroke="#00ff00" stroke-width="0.6"/>
<path d="M390.16 499.08l1.5 1.9l-1.5 1.9l-1.5 -1.9z" fill="#40e040" stroke="#00ff00" stroke-width="0.6"/>
<path d="M397.24 499.34l1.5 1.9l-1.5 1.9l-1.5 -1.9z" fill="#40e040" stroke="#00ff00" stroke-width="0.6"/>
<path d="M404.32 499.3l1.5 1.9l-1.5 1.9l-1.5 -1.9z" fill="#40e040" stroke="#00ff00" stroke-width="0.6"/>
<path d="M411.4 499.31l1.5 1.9l-1.5 1.9l-1.5 -1.9z" fill="#40e040" stroke="#00ff00" stroke-width="0.6"/>
<path d="M418.48 499.33l1.5 1.9l-1.5 1.9l-1.5 -1.9z" fill="#40e040" stroke="#00ff00" stroke-width="0.6"/>
<path d="M425.56 499.34l1.5 1.9l-1.5 1.9l-1.5 -1.9z" fill="#40e040" stroke="#00ff00" stroke-width="0.6"/>
<path d="M432.64 499.33l1.5 1.9l-1.5 1.9l-1.5 -1.9z" fill="#40e040" stroke="#00ff00" stroke-width="0.6"/>
<path d="M439.72 499.31l1.5 1.9l-1.5 1.9l-1.5 -1.9z" fill="#40e040" stroke="#00ff00" stroke-width="0.6"/>
<polyline points="269.8,401.8 270.44,402.13 271.29,402.52 272.31,402.98 273.44,403.51 274.62,404.13 275.79,404.85 276.9,405.67 277.9,406.6 278.8,407.69 279.68,408.94 280.53,410.32 281.36,411.78 282.17,413.28 282.96,414.78 283.74,416.24 284.5,417.6 285.24,418.89 285.95,420.14 286.64,421.37 287.32,422.59 287.99,423.8 288.65,425.02 289.32,426.25 290,427.5 290.69,428.78 291.38,430.06 292.06,431.36 292.75,432.66 293.44,433.97 294.12,435.28 294.81,436.59 295.5,437.9 296.2,439.22 296.9,440.57 297.61,441.94 298.32,443.29 299.02,444.63 299.7,445.94 300.37,447.2 301,448.4 301.61,449.53 302.2,450.61 302.77,451.64 303.32,452.64 303.86,453.61 304.39,454.57 304.9,455.53 305.4,456.5 305.88,457.45 306.34,458.37 306.77,459.27 307.2,460.17 307.62,461.07 308.04,462.01 308.46,462.98 308.9,464 309.33,465.03 309.76,466.05 310.17,467.07 310.59,468.13 311.03,469.26 311.49,470.5 311.97,471.87 312.5,473.4 313.08,475.15 313.71,477.12 314.37,479.24 315.05,481.46 315.74,483.7 316.42,485.91 317.08,488.03 317.7,490 318.29,491.84 318.88,493.62 319.45,495.35 320.01,497.03 320.55,498.66 321.08,500.25 321.6,501.79 322.1,503.3 322.6,504.8 323.1,506.3 323.59,507.79 324.07,509.21 324.52,510.56 324.93,511.79 325.29,512.88 325.6,513.8 325.84,514.53 326.03,515.09 326.17,515.5 326.27,515.81 326.34,516.03 326.4,516.2 326.45,516.35 326.5,516.5" fill="none" stroke="#ff3333" stroke-width="0.75" stroke-dasharray="2.6 0.7" stroke-linejoin="round"/>
<polyline points="269.8,449 269.8,515.6 446.8,515.6" fill="none" stroke="#ffff00" stroke-width="0.65" stroke-linejoin="round"/>
<polyline points="269.8,480.4 269.8,515.6 446.8,515.6" fill="none" stroke="#000000" stroke-width="0.65" stroke-linejoin="round"/>
<path d="M276.88 513.7l1.6 2.8h-3.2z" fill="#333" stroke="#000" stroke-width="0.5"/>
<path d="M283.96 513.7l1.6 2.8h-3.2z" fill="#333" stroke="#000" stroke-width="0.5"/>
<path d="M291.04 513.7l1.6 2.8h-3.2z" fill="#333" stroke="#000" stroke-width="0.5"/>
<path d="M298.12 513.7l1.6 2.8h-3.2z" fill="#333" stroke="#000" stroke-width="0.5"/>
<path d="M305.2 513.7l1.6 2.8h-3.2z" fill="#333" stroke="#000" stroke-width="0.5"/>
<path d="M312.28 513.7l1.6 2.8h-3.2z" fill="#333" stroke="#000" stroke-width="0.5"/>
<path d="M319.36 513.7l1.6 2.8h-3.2z" fill="#333" stroke="#000" stroke-width="0.5"/>
<path d="M326.44 513.7l1.6 2.8h-3.2z" fill="#333" stroke="#000" stroke-width="0.5"/>
<path d="M333.52 513.7l1.6 2.8h-3.2z" fill="#333" stroke="#000" stroke-width="0.5"/>
<path d="M340.6 513.7l1.6 2.8h-3.2z" fill="#333" stroke="#000" stroke-width="0.5"/>
<path d="M347.68 513.7l1.6 2.8h-3.2z" fill="#333" stroke="#000" stroke-width="0.5"/>
<path d="M354.76 513.7l1.6 2.8h-3.2z" fill="#333" stroke="#000" stroke-width="0.5"/>
<path d="M361.84 513.7l1.6 2.8h-3.2z" fill="#333" stroke="#000" stroke-width="0.5"/>
<path d="M368.92 513.7l1.6 2.8h-3.2z" fill="#333" stroke="#000" stroke-width="0.5"/>
<path d="M376 513.7l1.6 2.8h-3.2z" fill="#333" stroke="#000" stroke-width="0.5"/>
<path d="M383.08 513.7l1.6 2.8h-3.2z" fill="#333" stroke="#000" stroke-width="0.5"/>
<path d="M390.16 513.7l1.6 2.8h-3.2z" fill="#333" stroke="#000" stroke-width="0.5"/>
<path d="M397.24 513.7l1.6 2.8h-3.2z" fill="#333" stroke="#000" stroke-width="0.5"/>
<path d="M404.32 513.7l1.6 2.8h-3.2z" fill="#333" stroke="#000" stroke-width="0.5"/>
<path d="M411.4 513.7l1.6 2.8h-3.2z" fill="#333" stroke="#000" stroke-width="0.5"/>
<path d="M418.48 513.7l1.6 2.8h-3.2z" fill="#333" stroke="#000" stroke-width="0.5"/>
<path d="M425.56 513.7l1.6 2.8h-3.2z" fill="#333" stroke="#000" stroke-width="0.5"/>
<path d="M432.64 513.7l1.6 2.8h-3.2z" fill="#333" stroke="#000" stroke-width="0.5"/>
<path d="M439.72 513.7l1.6 2.8h-3.2z" fill="#333" stroke="#000" stroke-width="0.5"/>
<path d="M269.8 478.5l1.6 2.8h-3.2z" fill="#333" stroke="#000" stroke-width="0.5"/>
</g>
<rect x="387.4" y="376.2" width="45.5" height="55.5" fill="#fff" stroke="#9a9a9a" stroke-width="0.7"/>
<line x1="389.2" y1="380.7" x2="405.4" y2="380.7" stroke="#ff0000" stroke-width="0.65"/>
<circle cx="397.3" cy="380.7" r="1.1" fill="#e00000"/>
<text x="407" y="382.5" font-family='"Liberation Sans", sans-serif' font-size="4.85" fill="#333333">BOA</text>
<line x1="389.2" y1="387.38" x2="405.4" y2="387.38" stroke="#ff3333" stroke-width="0.7" stroke-dasharray="1.6 1"/>
<text x="407" y="389.18" font-family='"Liberation Sans", sans-serif' font-size="4.85" fill="#333333">HPSOBOA</text>
<line x1="389.2" y1="394.06" x2="405.4" y2="394.06" stroke="#00ffff" stroke-width="0.65"/>
<circle cx="397.3" cy="394.06" r="1.55" fill="#b0ffff" stroke="#00ffff" stroke-width="0.8"/>
<text x="407" y="395.86" font-family='"Liberation Sans", sans-serif' font-size="4.85" fill="#333333">COOT</text>
<line x1="389.2" y1="400.74" x2="405.4" y2="400.74" stroke="#ff00ff" stroke-width="0.65"/>
<path d="M396.2 400.74h2.2M397.3 399.64v2.2" stroke="#ff00ff" stroke-width="0.7"/>
<text x="407" y="402.54" font-family='"Liberation Sans", sans-serif' font-size="4.85" fill="#333333">PSO</text>
<line x1="389.2" y1="407.42" x2="405.4" y2="407.42" stroke="#00ff00" stroke-width="0.65"/>
<path d="M397.3 405.52l1.5 1.9l-1.5 1.9l-1.5 -1.9z" fill="#40e040" stroke="#00ff00" stroke-width="0.6"/>
<text x="407" y="409.22" font-family='"Liberation Sans", sans-serif' font-size="4.85" fill="#333333">GWO</text>
<line x1="389.2" y1="414.1" x2="405.4" y2="414.1" stroke="#0000ff" stroke-width="0.65"/>
<ellipse cx="397.3" cy="414.1" rx="1.7" ry="1.45" fill="#5050ff" stroke="#0000ff" stroke-width="0.7"/>
<text x="407" y="415.9" font-family='"Liberation Sans", sans-serif' font-size="4.85" fill="#333333">SCA</text>
<line x1="389.2" y1="420.78" x2="405.4" y2="420.78" stroke="#ffff00" stroke-width="0.65"/>
<circle cx="397.3" cy="420.78" r="0.9" fill="#e8e800"/>
<text x="407" y="422.58" font-family='"Liberation Sans", sans-serif' font-size="4.85" fill="#333333">BES</text>
<line x1="389.2" y1="427.46" x2="405.4" y2="427.46" stroke="#000000" stroke-width="0.65"/>
<path d="M397.3 425.56l1.6 2.8h-3.2z" fill="#333" stroke="#000" stroke-width="0.5"/>
<text x="407" y="429.26" font-family='"Liberation Sans", sans-serif' font-size="4.85" fill="#333333">HBES</text>
</svg>
</body></html>
